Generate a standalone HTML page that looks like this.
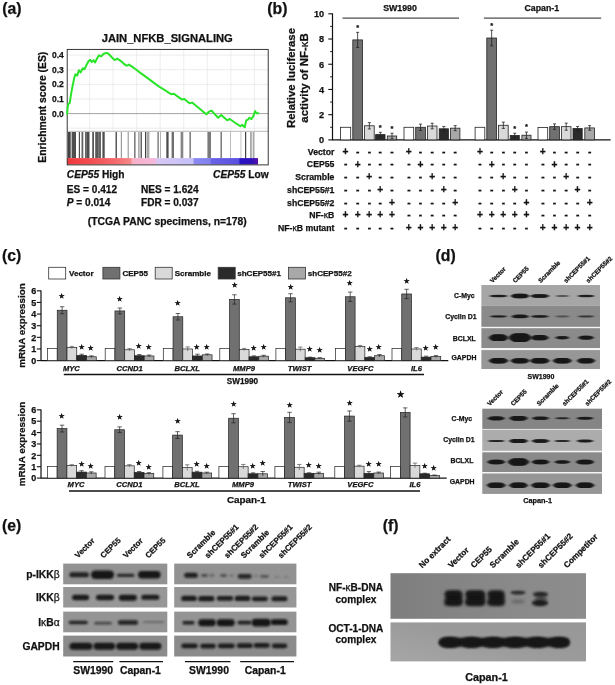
<!DOCTYPE html>
<html lang="en"><head><meta charset="utf-8"><title>CEP55 NF-kB figure</title>
<style>html,body{margin:0;padding:0;background:#fff}svg{display:block}text{font-family:'Liberation Sans', sans-serif;stroke:#111;stroke-width:0.25px;paint-order:stroke}</style>
</head><body>
<svg width="615" height="685" viewBox="0 0 615 685">
<defs>
<filter id="b06" x="-30%" y="-60%" width="160%" height="220%"><feGaussianBlur stdDeviation="0.6"/></filter>
<filter id="b08" x="-30%" y="-60%" width="160%" height="220%"><feGaussianBlur stdDeviation="0.8"/></filter>
<filter id="b1" x="-30%" y="-60%" width="160%" height="220%"><feGaussianBlur stdDeviation="1.0"/></filter>
<filter id="b14" x="-30%" y="-60%" width="160%" height="220%"><feGaussianBlur stdDeviation="1.4"/></filter>
<filter id="b2" x="-30%" y="-60%" width="160%" height="220%"><feGaussianBlur stdDeviation="2.0"/></filter>
<filter id="b3" x="-30%" y="-60%" width="160%" height="220%"><feGaussianBlur stdDeviation="3.0"/></filter>
<filter id="bx" x="-30%" y="-60%" width="160%" height="220%"><feGaussianBlur stdDeviation="1.3 0.8"/></filter>
<filter id="be" x="-30%" y="-80%" width="160%" height="260%"><feGaussianBlur stdDeviation="1.0 0.6"/></filter>
<filter id="bx8" x="-30%" y="-80%" width="160%" height="260%"><feGaussianBlur stdDeviation="1.2 0.6"/></filter>
<linearGradient id="cb" x1="0" x2="1" y1="0" y2="0">
<stop offset="0" stop-color="#f0383c"/>
<stop offset="0.1" stop-color="#f24a4e"/>
<stop offset="0.25" stop-color="#f4686a"/>
<stop offset="0.335" stop-color="#f58a8a"/>
<stop offset="0.34" stop-color="#f8b0c8"/>
<stop offset="0.46" stop-color="#f4b8dc"/>
<stop offset="0.47" stop-color="#d8c8f4"/>
<stop offset="0.66" stop-color="#c4c0f8"/>
<stop offset="0.665" stop-color="#8a8af0"/>
<stop offset="0.75" stop-color="#8080ee"/>
<stop offset="0.755" stop-color="#6a62e6"/>
<stop offset="0.9" stop-color="#5a50e0"/>
<stop offset="0.905" stop-color="#2a14c4"/>
<stop offset="0.97" stop-color="#3010b8"/>
<stop offset="1" stop-color="#5a10a8"/>
</linearGradient>
<linearGradient id="gf1" x1="0" x2="1" y1="0" y2="0"><stop offset="0" stop-color="#7e7e7e"/><stop offset="0.6" stop-color="#898989"/><stop offset="1" stop-color="#8d8d8d"/></linearGradient>
<linearGradient id="gf2" x1="0" x2="1" y1="1" y2="0"><stop offset="0" stop-color="#a6a6a6"/><stop offset="0.5" stop-color="#9b9b9b"/><stop offset="1" stop-color="#979797"/></linearGradient>
</defs>
<rect x="0" y="0" width="615" height="685" fill="#ffffff"/>
<text x="2.30" y="14.10" font-size="15.8" font-weight="bold" text-anchor="start" fill="#111"  >(a)</text>
<text x="267.30" y="14.10" font-size="15.8" font-weight="bold" text-anchor="start" fill="#111"  >(b)</text>
<text x="1.90" y="260.70" font-size="15.8" font-weight="bold" text-anchor="start" fill="#111"  >(c)</text>
<text x="435.60" y="260.70" font-size="15.8" font-weight="bold" text-anchor="start" fill="#111"  >(d)</text>
<text x="1.90" y="530.60" font-size="15.8" font-weight="bold" text-anchor="start" fill="#111"  >(e)</text>
<text x="382.70" y="530.60" font-size="15.8" font-weight="bold" text-anchor="start" fill="#111"  >(f)</text>
<g id="panelA">
<text x="167.25" y="41.60" font-size="11.2" font-weight="bold" text-anchor="middle" fill="#111"  >JAIN_NFKB_SIGNALING</text>
<line x1="89.47" y1="49.40" x2="89.47" y2="131.00" stroke="#e6e6e6" stroke-width="0.7"/>
<line x1="113.04" y1="49.40" x2="113.04" y2="131.00" stroke="#e6e6e6" stroke-width="0.7"/>
<line x1="136.61" y1="49.40" x2="136.61" y2="131.00" stroke="#e6e6e6" stroke-width="0.7"/>
<line x1="160.18" y1="49.40" x2="160.18" y2="131.00" stroke="#e6e6e6" stroke-width="0.7"/>
<line x1="183.75" y1="49.40" x2="183.75" y2="131.00" stroke="#e6e6e6" stroke-width="0.7"/>
<line x1="207.32" y1="49.40" x2="207.32" y2="131.00" stroke="#e6e6e6" stroke-width="0.7"/>
<line x1="230.89" y1="49.40" x2="230.89" y2="131.00" stroke="#e6e6e6" stroke-width="0.7"/>
<line x1="254.46" y1="49.40" x2="254.46" y2="131.00" stroke="#e6e6e6" stroke-width="0.7"/>
<line x1="67.20" y1="128.22" x2="268.20" y2="128.22" stroke="#e4e4e4" stroke-width="0.7"/>
<line x1="67.20" y1="98.98" x2="268.20" y2="98.98" stroke="#e4e4e4" stroke-width="0.7"/>
<line x1="67.20" y1="84.36" x2="268.20" y2="84.36" stroke="#e4e4e4" stroke-width="0.7"/>
<line x1="67.20" y1="69.74" x2="268.20" y2="69.74" stroke="#e4e4e4" stroke-width="0.7"/>
<line x1="67.20" y1="55.12" x2="268.20" y2="55.12" stroke="#e4e4e4" stroke-width="0.7"/>
<line x1="67.20" y1="113.60" x2="268.20" y2="113.60" stroke="#8a8a8a" stroke-width="0.8"/>
<line x1="67.20" y1="131.30" x2="268.20" y2="131.30" stroke="#999" stroke-width="0.7"/>
<text x="63.80" y="116.70" font-size="8.5" font-weight="bold" text-anchor="end" fill="#111"  >0.0</text>
<text x="63.80" y="102.08" font-size="8.5" font-weight="bold" text-anchor="end" fill="#111"  >0.1</text>
<text x="63.80" y="87.46" font-size="8.5" font-weight="bold" text-anchor="end" fill="#111"  >0.2</text>
<text x="63.80" y="72.84" font-size="8.5" font-weight="bold" text-anchor="end" fill="#111"  >0.3</text>
<text x="63.80" y="58.22" font-size="8.5" font-weight="bold" text-anchor="end" fill="#111"  >0.4</text>
<text transform="translate(45.70,107.20) rotate(-90)" font-size="10.35" font-weight="bold" text-anchor="middle" fill="#111">Enrichment score (ES)</text>
<rect x="68.00" y="132.00" width="2.70" height="26.20" fill="#222"  opacity="0.85"/>
<rect x="71.60" y="132.00" width="4.40" height="26.20" fill="#222"  opacity="0.8"/>
<rect x="78.80" y="132.00" width="1.20" height="26.20" fill="#222"  opacity="0.8"/>
<rect x="81.50" y="132.00" width="1.80" height="26.20" fill="#222"  opacity="0.7"/>
<rect x="85.00" y="132.00" width="1.80" height="26.20" fill="#222"  opacity="0.7"/>
<rect x="86.80" y="132.00" width="2.70" height="26.20" fill="#222"  opacity="0.8"/>
<rect x="92.20" y="132.00" width="1.80" height="26.20" fill="#222"  opacity="0.75"/>
<rect x="95.20" y="132.00" width="3.30" height="26.20" fill="#222"  opacity="0.75"/>
<rect x="98.50" y="132.00" width="2.50" height="26.20" fill="#222"  opacity="0.7"/>
<rect x="102.40" y="132.00" width="2.30" height="26.20" fill="#222"  opacity="0.8"/>
<rect x="115.50" y="132.00" width="1.50" height="26.20" fill="#222"  opacity="0.75"/>
<rect x="120.80" y="132.00" width="1.20" height="26.20" fill="#222"  opacity="0.45"/>
<rect x="127.60" y="132.00" width="1.30" height="26.20" fill="#222"  opacity="0.4"/>
<rect x="134.20" y="132.00" width="1.30" height="26.20" fill="#222"  opacity="0.7"/>
<rect x="138.20" y="132.00" width="1.40" height="26.20" fill="#222"  opacity="0.45"/>
<rect x="140.50" y="132.00" width="1.50" height="26.20" fill="#222"  opacity="0.7"/>
<rect x="145.00" y="132.00" width="1.20" height="26.20" fill="#222"  opacity="0.85"/>
<rect x="146.80" y="132.00" width="2.60" height="26.20" fill="#222"  opacity="0.4"/>
<rect x="157.50" y="132.00" width="1.20" height="26.20" fill="#222"  opacity="0.7"/>
<rect x="160.00" y="132.00" width="1.00" height="26.20" fill="#222"  opacity="0.35"/>
<rect x="166.30" y="132.00" width="2.30" height="26.20" fill="#222"  opacity="0.8"/>
<rect x="171.60" y="132.00" width="2.40" height="26.20" fill="#222"  opacity="0.65"/>
<rect x="180.60" y="132.00" width="2.70" height="26.20" fill="#222"  opacity="0.55"/>
<rect x="189.50" y="132.00" width="1.30" height="26.20" fill="#222"  opacity="0.7"/>
<rect x="207.40" y="132.00" width="3.60" height="26.20" fill="#222"  opacity="0.6"/>
<rect x="220.50" y="132.00" width="1.40" height="26.20" fill="#222"  opacity="0.65"/>
<rect x="230.10" y="132.00" width="0.90" height="26.20" fill="#222"  opacity="0.35"/>
<rect x="240.50" y="132.00" width="0.90" height="26.20" fill="#222"  opacity="0.3"/>
<rect x="245.00" y="132.00" width="1.20" height="26.20" fill="#222"  opacity="0.85"/>
<rect x="250.30" y="132.00" width="1.30" height="26.20" fill="#222"  opacity="0.55"/>
<rect x="252.70" y="132.00" width="1.80" height="26.20" fill="#222"  opacity="0.4"/>
<rect x="67.20" y="158.10" width="190.80" height="6.40" fill="url(#cb)"  />
<rect x="67.20" y="49.40" width="201.00" height="115.50" fill="none" stroke="#222" stroke-width="0.9" />
<polyline fill="none" stroke="#2ae42a" stroke-width="2" stroke-linejoin="round" stroke-linecap="round" points="67.20,113.80 67.60,108.00 68.20,104.20 69.80,102.90 70.60,97.00 71.60,91.10 72.60,86.00 73.70,80.70 74.60,76.50 75.50,74.20 76.40,75.20 77.30,75.50 78.10,72.50 78.90,70.30 79.80,71.60 80.70,72.40 81.80,70.00 82.80,68.20 83.70,69.20 84.60,69.00 86.50,65.00 88.50,61.20 89.50,60.20 90.40,59.90 91.70,62.00 92.70,61.00 93.75,60.40 95.00,62.50 97.00,58.50 99.00,55.20 100.30,56.20 101.60,56.00 102.90,54.50 104.20,53.40 106.80,52.90 108.00,53.40 109.40,54.70 112.00,57.50 114.60,59.90 116.00,59.50 117.20,58.60 119.00,59.80 121.10,61.20 123.70,63.60 126.30,65.60 127.60,65.40 128.90,64.60 132.00,66.60 135.40,69.00 140.00,72.60 148.00,78.40 155.00,83.60 160.00,87.20 166.00,90.80 168.50,92.60 171.25,94.20 173.90,93.70 177.50,96.40 181.70,99.40 184.30,98.90 187.00,101.20 189.50,103.30 192.10,102.60 196.00,105.80 200.00,109.00 203.00,111.60 206.40,114.30 209.00,111.70 211.60,110.60 214.50,113.80 218.10,117.70 221.25,115.00 224.00,117.60 227.20,120.30 229.80,119.00 233.00,121.20 236.50,123.70 240.30,126.25 242.10,124.70 243.50,126.20 244.70,127.30 245.50,123.50 246.25,120.30 248.10,119.50 249.40,117.70 250.40,118.60 251.50,119.00 252.40,117.50 253.30,116.40 254.20,113.50 255.10,111.10 255.90,112.40 256.70,113.20 258.50,113.20"/>
<text x="66.80" y="178.20" font-size="10.2" font-weight="bold" text-anchor="start" fill="#111"  ><tspan font-style="italic">CEP55</tspan> High</text>
<text x="268.60" y="178.20" font-size="10.2" font-weight="bold" text-anchor="end" fill="#111"  ><tspan font-style="italic">CEP55</tspan> Low</text>
<text x="66.80" y="192.80" font-size="10.1" font-weight="bold" text-anchor="start" fill="#111"  >ES = 0.412</text>
<text x="141.00" y="192.80" font-size="10.1" font-weight="bold" text-anchor="start" fill="#111"  >NES = 1.624</text>
<text x="66.80" y="205.80" font-size="10.1" font-weight="bold" text-anchor="start" fill="#111"  ><tspan font-style="italic">P</tspan> = 0.014</text>
<text x="141.00" y="205.80" font-size="10.1" font-weight="bold" text-anchor="start" fill="#111"  >FDR = 0.037</text>
<text x="87.80" y="224.60" font-size="10.35" font-weight="bold" text-anchor="start" fill="#111"  >(TCGA PANC specimens, n=178)</text>
</g>
<g id="panelB">
<line x1="332.50" y1="13.40" x2="332.50" y2="140.40" stroke="#111" stroke-width="1.2"/>
<line x1="332.50" y1="139.90" x2="610.60" y2="139.90" stroke="#111" stroke-width="1.3"/>
<line x1="328.30" y1="139.90" x2="332.50" y2="139.90" stroke="#111" stroke-width="1.1"/>
<text x="324.20" y="143.20" font-size="9.2" font-weight="bold" text-anchor="end" fill="#111"  >0</text>
<line x1="330.10" y1="127.29" x2="332.50" y2="127.29" stroke="#111" stroke-width="0.9"/>
<line x1="328.30" y1="114.68" x2="332.50" y2="114.68" stroke="#111" stroke-width="1.1"/>
<text x="324.20" y="117.98" font-size="9.2" font-weight="bold" text-anchor="end" fill="#111"  >2</text>
<line x1="330.10" y1="102.07" x2="332.50" y2="102.07" stroke="#111" stroke-width="0.9"/>
<line x1="328.30" y1="89.46" x2="332.50" y2="89.46" stroke="#111" stroke-width="1.1"/>
<text x="324.20" y="92.76" font-size="9.2" font-weight="bold" text-anchor="end" fill="#111"  >4</text>
<line x1="330.10" y1="76.85" x2="332.50" y2="76.85" stroke="#111" stroke-width="0.9"/>
<line x1="328.30" y1="64.24" x2="332.50" y2="64.24" stroke="#111" stroke-width="1.1"/>
<text x="324.20" y="67.54" font-size="9.2" font-weight="bold" text-anchor="end" fill="#111"  >6</text>
<line x1="330.10" y1="51.63" x2="332.50" y2="51.63" stroke="#111" stroke-width="0.9"/>
<line x1="328.30" y1="39.02" x2="332.50" y2="39.02" stroke="#111" stroke-width="1.1"/>
<text x="324.20" y="42.32" font-size="9.2" font-weight="bold" text-anchor="end" fill="#111"  >8</text>
<line x1="330.10" y1="26.41" x2="332.50" y2="26.41" stroke="#111" stroke-width="0.9"/>
<line x1="328.30" y1="13.80" x2="332.50" y2="13.80" stroke="#111" stroke-width="1.1"/>
<text x="324.20" y="17.10" font-size="9.2" font-weight="bold" text-anchor="end" fill="#111"  >10</text>
<text transform="translate(295.00,78.00) rotate(-90)" font-size="11.4" font-weight="bold" text-anchor="middle" fill="#111">Relative luciferase</text>
<text transform="translate(308.20,78.00) rotate(-90)" font-size="11.4" font-weight="bold" text-anchor="middle" fill="#111">activity of NF-<tspan font-weight="normal">κ</tspan>B</text>
<line x1="342.50" y1="18.10" x2="459.00" y2="18.10" stroke="#222" stroke-width="1"/>
<line x1="483.90" y1="18.10" x2="601.20" y2="18.10" stroke="#222" stroke-width="1"/>
<text x="400.00" y="11.20" font-size="8.8" font-weight="bold" text-anchor="middle" fill="#111"  >SW1990</text>
<text x="541.80" y="11.20" font-size="8.8" font-weight="bold" text-anchor="middle" fill="#111"  >Capan-1</text>
<rect x="340.50" y="127.29" width="10.20" height="12.61" fill="#ffffff" stroke="#222" stroke-width="0.8" />
<rect x="352.80" y="39.90" width="9.70" height="100.00" fill="#707070" stroke="#222" stroke-width="0.8" />
<line x1="357.65" y1="32.34" x2="357.65" y2="47.47" stroke="#222" stroke-width="0.8"/>
<line x1="356.15" y1="32.34" x2="359.15" y2="32.34" stroke="#222" stroke-width="0.8"/>
<line x1="356.15" y1="47.47" x2="359.15" y2="47.47" stroke="#222" stroke-width="0.8"/>
<text x="357.65" y="26.74" font-size="7.5" font-weight="bold" text-anchor="middle" fill="#111"  dy="3">*</text>
<rect x="364.50" y="125.78" width="9.70" height="14.12" fill="#d9d9d9" stroke="#222" stroke-width="0.8" />
<line x1="369.35" y1="122.62" x2="369.35" y2="128.93" stroke="#222" stroke-width="0.8"/>
<line x1="367.85" y1="122.62" x2="370.85" y2="122.62" stroke="#222" stroke-width="0.8"/>
<line x1="367.85" y1="128.93" x2="370.85" y2="128.93" stroke="#222" stroke-width="0.8"/>
<rect x="375.60" y="134.60" width="9.40" height="5.30" fill="#2a2a2a" stroke="#222" stroke-width="0.8" />
<line x1="380.30" y1="132.33" x2="380.30" y2="136.87" stroke="#222" stroke-width="0.8"/>
<line x1="378.80" y1="132.33" x2="381.80" y2="132.33" stroke="#222" stroke-width="0.8"/>
<line x1="378.80" y1="136.87" x2="381.80" y2="136.87" stroke="#222" stroke-width="0.8"/>
<text x="380.30" y="126.73" font-size="7.5" font-weight="bold" text-anchor="middle" fill="#111"  dy="3">*</text>
<rect x="387.30" y="135.99" width="9.40" height="3.91" fill="#a8a8a8" stroke="#222" stroke-width="0.8" />
<line x1="392.00" y1="133.22" x2="392.00" y2="138.77" stroke="#222" stroke-width="0.8"/>
<line x1="390.50" y1="133.22" x2="393.50" y2="133.22" stroke="#222" stroke-width="0.8"/>
<line x1="390.50" y1="138.77" x2="393.50" y2="138.77" stroke="#222" stroke-width="0.8"/>
<text x="392.00" y="127.62" font-size="7.5" font-weight="bold" text-anchor="middle" fill="#111"  dy="3">*</text>
<rect x="404.00" y="127.29" width="9.70" height="12.61" fill="#ffffff" stroke="#222" stroke-width="0.8" />
<rect x="415.70" y="127.29" width="9.70" height="12.61" fill="#707070" stroke="#222" stroke-width="0.8" />
<line x1="420.55" y1="124.14" x2="420.55" y2="130.44" stroke="#222" stroke-width="0.8"/>
<line x1="419.05" y1="124.14" x2="422.05" y2="124.14" stroke="#222" stroke-width="0.8"/>
<line x1="419.05" y1="130.44" x2="422.05" y2="130.44" stroke="#222" stroke-width="0.8"/>
<rect x="427.40" y="126.03" width="9.60" height="13.87" fill="#d9d9d9" stroke="#222" stroke-width="0.8" />
<line x1="432.20" y1="123.25" x2="432.20" y2="128.80" stroke="#222" stroke-width="0.8"/>
<line x1="430.70" y1="123.25" x2="433.70" y2="123.25" stroke="#222" stroke-width="0.8"/>
<line x1="430.70" y1="128.80" x2="433.70" y2="128.80" stroke="#222" stroke-width="0.8"/>
<rect x="439.20" y="128.80" width="9.20" height="11.10" fill="#2a2a2a" stroke="#222" stroke-width="0.8" />
<line x1="443.80" y1="126.53" x2="443.80" y2="131.07" stroke="#222" stroke-width="0.8"/>
<line x1="442.30" y1="126.53" x2="445.30" y2="126.53" stroke="#222" stroke-width="0.8"/>
<line x1="442.30" y1="131.07" x2="445.30" y2="131.07" stroke="#222" stroke-width="0.8"/>
<rect x="450.50" y="128.17" width="9.40" height="11.73" fill="#a8a8a8" stroke="#222" stroke-width="0.8" />
<line x1="455.20" y1="125.65" x2="455.20" y2="130.69" stroke="#222" stroke-width="0.8"/>
<line x1="453.70" y1="125.65" x2="456.70" y2="125.65" stroke="#222" stroke-width="0.8"/>
<line x1="453.70" y1="130.69" x2="456.70" y2="130.69" stroke="#222" stroke-width="0.8"/>
<rect x="475.10" y="127.29" width="9.70" height="12.61" fill="#ffffff" stroke="#222" stroke-width="0.8" />
<rect x="486.80" y="38.01" width="9.70" height="101.89" fill="#707070" stroke="#222" stroke-width="0.8" />
<line x1="491.65" y1="30.19" x2="491.65" y2="45.83" stroke="#222" stroke-width="0.8"/>
<line x1="490.15" y1="30.19" x2="493.15" y2="30.19" stroke="#222" stroke-width="0.8"/>
<line x1="490.15" y1="45.83" x2="493.15" y2="45.83" stroke="#222" stroke-width="0.8"/>
<text x="491.65" y="24.59" font-size="7.5" font-weight="bold" text-anchor="middle" fill="#111"  dy="3">*</text>
<rect x="498.50" y="125.27" width="9.70" height="14.63" fill="#d9d9d9" stroke="#222" stroke-width="0.8" />
<line x1="503.35" y1="122.12" x2="503.35" y2="128.42" stroke="#222" stroke-width="0.8"/>
<line x1="501.85" y1="122.12" x2="504.85" y2="122.12" stroke="#222" stroke-width="0.8"/>
<line x1="501.85" y1="128.42" x2="504.85" y2="128.42" stroke="#222" stroke-width="0.8"/>
<rect x="510.20" y="135.49" width="9.10" height="4.41" fill="#2a2a2a" stroke="#222" stroke-width="0.8" />
<line x1="514.75" y1="133.22" x2="514.75" y2="137.76" stroke="#222" stroke-width="0.8"/>
<line x1="513.25" y1="133.22" x2="516.25" y2="133.22" stroke="#222" stroke-width="0.8"/>
<line x1="513.25" y1="137.76" x2="516.25" y2="137.76" stroke="#222" stroke-width="0.8"/>
<text x="514.75" y="127.62" font-size="7.5" font-weight="bold" text-anchor="middle" fill="#111"  dy="3">*</text>
<rect x="521.90" y="135.23" width="9.10" height="4.67" fill="#a8a8a8" stroke="#222" stroke-width="0.8" />
<line x1="526.45" y1="132.08" x2="526.45" y2="138.39" stroke="#222" stroke-width="0.8"/>
<line x1="524.95" y1="132.08" x2="527.95" y2="132.08" stroke="#222" stroke-width="0.8"/>
<line x1="524.95" y1="138.39" x2="527.95" y2="138.39" stroke="#222" stroke-width="0.8"/>
<text x="526.45" y="126.48" font-size="7.5" font-weight="bold" text-anchor="middle" fill="#111"  dy="3">*</text>
<rect x="538.00" y="127.54" width="9.70" height="12.36" fill="#ffffff" stroke="#222" stroke-width="0.8" />
<rect x="549.70" y="126.66" width="9.70" height="13.24" fill="#707070" stroke="#222" stroke-width="0.8" />
<line x1="554.55" y1="123.89" x2="554.55" y2="129.43" stroke="#222" stroke-width="0.8"/>
<line x1="553.05" y1="123.89" x2="556.05" y2="123.89" stroke="#222" stroke-width="0.8"/>
<line x1="553.05" y1="129.43" x2="556.05" y2="129.43" stroke="#222" stroke-width="0.8"/>
<rect x="561.40" y="126.66" width="9.60" height="13.24" fill="#d9d9d9" stroke="#222" stroke-width="0.8" />
<line x1="566.20" y1="123.13" x2="566.20" y2="130.19" stroke="#222" stroke-width="0.8"/>
<line x1="564.70" y1="123.13" x2="567.70" y2="123.13" stroke="#222" stroke-width="0.8"/>
<line x1="564.70" y1="130.19" x2="567.70" y2="130.19" stroke="#222" stroke-width="0.8"/>
<rect x="573.00" y="128.55" width="9.20" height="11.35" fill="#2a2a2a" stroke="#222" stroke-width="0.8" />
<line x1="577.60" y1="126.53" x2="577.60" y2="130.57" stroke="#222" stroke-width="0.8"/>
<line x1="576.10" y1="126.53" x2="579.10" y2="126.53" stroke="#222" stroke-width="0.8"/>
<line x1="576.10" y1="130.57" x2="579.10" y2="130.57" stroke="#222" stroke-width="0.8"/>
<rect x="584.80" y="127.92" width="9.70" height="11.98" fill="#a8a8a8" stroke="#222" stroke-width="0.8" />
<line x1="589.65" y1="125.65" x2="589.65" y2="130.19" stroke="#222" stroke-width="0.8"/>
<line x1="588.15" y1="125.65" x2="591.15" y2="125.65" stroke="#222" stroke-width="0.8"/>
<line x1="588.15" y1="130.19" x2="591.15" y2="130.19" stroke="#222" stroke-width="0.8"/>
<text x="334.40" y="154.80" font-size="8.7" font-weight="bold" text-anchor="end" fill="#111"  >Vector</text>
<text x="345.60" y="155.24" font-size="10.2" font-weight="bold" text-anchor="middle" fill="#111"  stroke-width="0.15">+</text>
<text x="357.65" y="154.70" font-size="10.2" font-weight="bold" text-anchor="middle" fill="#111"  stroke-width="0.15">-</text>
<text x="369.35" y="154.70" font-size="10.2" font-weight="bold" text-anchor="middle" fill="#111"  stroke-width="0.15">-</text>
<text x="380.30" y="154.70" font-size="10.2" font-weight="bold" text-anchor="middle" fill="#111"  stroke-width="0.15">-</text>
<text x="392.00" y="154.70" font-size="10.2" font-weight="bold" text-anchor="middle" fill="#111"  stroke-width="0.15">-</text>
<text x="408.85" y="155.24" font-size="10.2" font-weight="bold" text-anchor="middle" fill="#111"  stroke-width="0.15">+</text>
<text x="420.55" y="154.70" font-size="10.2" font-weight="bold" text-anchor="middle" fill="#111"  stroke-width="0.15">-</text>
<text x="432.20" y="154.70" font-size="10.2" font-weight="bold" text-anchor="middle" fill="#111"  stroke-width="0.15">-</text>
<text x="443.80" y="154.70" font-size="10.2" font-weight="bold" text-anchor="middle" fill="#111"  stroke-width="0.15">-</text>
<text x="455.20" y="154.70" font-size="10.2" font-weight="bold" text-anchor="middle" fill="#111"  stroke-width="0.15">-</text>
<text x="479.95" y="155.24" font-size="10.2" font-weight="bold" text-anchor="middle" fill="#111"  stroke-width="0.15">+</text>
<text x="491.65" y="154.70" font-size="10.2" font-weight="bold" text-anchor="middle" fill="#111"  stroke-width="0.15">-</text>
<text x="503.35" y="154.70" font-size="10.2" font-weight="bold" text-anchor="middle" fill="#111"  stroke-width="0.15">-</text>
<text x="514.75" y="154.70" font-size="10.2" font-weight="bold" text-anchor="middle" fill="#111"  stroke-width="0.15">-</text>
<text x="526.45" y="154.70" font-size="10.2" font-weight="bold" text-anchor="middle" fill="#111"  stroke-width="0.15">-</text>
<text x="542.85" y="155.24" font-size="10.2" font-weight="bold" text-anchor="middle" fill="#111"  stroke-width="0.15">+</text>
<text x="554.55" y="154.70" font-size="10.2" font-weight="bold" text-anchor="middle" fill="#111"  stroke-width="0.15">-</text>
<text x="566.20" y="154.70" font-size="10.2" font-weight="bold" text-anchor="middle" fill="#111"  stroke-width="0.15">-</text>
<text x="577.60" y="154.70" font-size="10.2" font-weight="bold" text-anchor="middle" fill="#111"  stroke-width="0.15">-</text>
<text x="589.65" y="154.70" font-size="10.2" font-weight="bold" text-anchor="middle" fill="#111"  stroke-width="0.15">-</text>
<text x="334.40" y="167.40" font-size="8.7" font-weight="bold" text-anchor="end" fill="#111"  >CEP55</text>
<text x="345.60" y="167.30" font-size="10.2" font-weight="bold" text-anchor="middle" fill="#111"  stroke-width="0.15">-</text>
<text x="357.65" y="167.84" font-size="10.2" font-weight="bold" text-anchor="middle" fill="#111"  stroke-width="0.15">+</text>
<text x="369.35" y="167.30" font-size="10.2" font-weight="bold" text-anchor="middle" fill="#111"  stroke-width="0.15">-</text>
<text x="380.30" y="167.30" font-size="10.2" font-weight="bold" text-anchor="middle" fill="#111"  stroke-width="0.15">-</text>
<text x="392.00" y="167.30" font-size="10.2" font-weight="bold" text-anchor="middle" fill="#111"  stroke-width="0.15">-</text>
<text x="408.85" y="167.30" font-size="10.2" font-weight="bold" text-anchor="middle" fill="#111"  stroke-width="0.15">-</text>
<text x="420.55" y="167.84" font-size="10.2" font-weight="bold" text-anchor="middle" fill="#111"  stroke-width="0.15">+</text>
<text x="432.20" y="167.30" font-size="10.2" font-weight="bold" text-anchor="middle" fill="#111"  stroke-width="0.15">-</text>
<text x="443.80" y="167.30" font-size="10.2" font-weight="bold" text-anchor="middle" fill="#111"  stroke-width="0.15">-</text>
<text x="455.20" y="167.30" font-size="10.2" font-weight="bold" text-anchor="middle" fill="#111"  stroke-width="0.15">-</text>
<text x="479.95" y="167.30" font-size="10.2" font-weight="bold" text-anchor="middle" fill="#111"  stroke-width="0.15">-</text>
<text x="491.65" y="167.84" font-size="10.2" font-weight="bold" text-anchor="middle" fill="#111"  stroke-width="0.15">+</text>
<text x="503.35" y="167.30" font-size="10.2" font-weight="bold" text-anchor="middle" fill="#111"  stroke-width="0.15">-</text>
<text x="514.75" y="167.30" font-size="10.2" font-weight="bold" text-anchor="middle" fill="#111"  stroke-width="0.15">-</text>
<text x="526.45" y="167.30" font-size="10.2" font-weight="bold" text-anchor="middle" fill="#111"  stroke-width="0.15">-</text>
<text x="542.85" y="167.30" font-size="10.2" font-weight="bold" text-anchor="middle" fill="#111"  stroke-width="0.15">-</text>
<text x="554.55" y="167.84" font-size="10.2" font-weight="bold" text-anchor="middle" fill="#111"  stroke-width="0.15">+</text>
<text x="566.20" y="167.30" font-size="10.2" font-weight="bold" text-anchor="middle" fill="#111"  stroke-width="0.15">-</text>
<text x="577.60" y="167.30" font-size="10.2" font-weight="bold" text-anchor="middle" fill="#111"  stroke-width="0.15">-</text>
<text x="589.65" y="167.30" font-size="10.2" font-weight="bold" text-anchor="middle" fill="#111"  stroke-width="0.15">-</text>
<text x="334.40" y="180.00" font-size="8.7" font-weight="bold" text-anchor="end" fill="#111"  >Scramble</text>
<text x="345.60" y="179.90" font-size="10.2" font-weight="bold" text-anchor="middle" fill="#111"  stroke-width="0.15">-</text>
<text x="357.65" y="179.90" font-size="10.2" font-weight="bold" text-anchor="middle" fill="#111"  stroke-width="0.15">-</text>
<text x="369.35" y="180.44" font-size="10.2" font-weight="bold" text-anchor="middle" fill="#111"  stroke-width="0.15">+</text>
<text x="380.30" y="179.90" font-size="10.2" font-weight="bold" text-anchor="middle" fill="#111"  stroke-width="0.15">-</text>
<text x="392.00" y="179.90" font-size="10.2" font-weight="bold" text-anchor="middle" fill="#111"  stroke-width="0.15">-</text>
<text x="408.85" y="179.90" font-size="10.2" font-weight="bold" text-anchor="middle" fill="#111"  stroke-width="0.15">-</text>
<text x="420.55" y="179.90" font-size="10.2" font-weight="bold" text-anchor="middle" fill="#111"  stroke-width="0.15">-</text>
<text x="432.20" y="180.44" font-size="10.2" font-weight="bold" text-anchor="middle" fill="#111"  stroke-width="0.15">+</text>
<text x="443.80" y="179.90" font-size="10.2" font-weight="bold" text-anchor="middle" fill="#111"  stroke-width="0.15">-</text>
<text x="455.20" y="179.90" font-size="10.2" font-weight="bold" text-anchor="middle" fill="#111"  stroke-width="0.15">-</text>
<text x="479.95" y="179.90" font-size="10.2" font-weight="bold" text-anchor="middle" fill="#111"  stroke-width="0.15">-</text>
<text x="491.65" y="179.90" font-size="10.2" font-weight="bold" text-anchor="middle" fill="#111"  stroke-width="0.15">-</text>
<text x="503.35" y="180.44" font-size="10.2" font-weight="bold" text-anchor="middle" fill="#111"  stroke-width="0.15">+</text>
<text x="514.75" y="179.90" font-size="10.2" font-weight="bold" text-anchor="middle" fill="#111"  stroke-width="0.15">-</text>
<text x="526.45" y="179.90" font-size="10.2" font-weight="bold" text-anchor="middle" fill="#111"  stroke-width="0.15">-</text>
<text x="542.85" y="179.90" font-size="10.2" font-weight="bold" text-anchor="middle" fill="#111"  stroke-width="0.15">-</text>
<text x="554.55" y="179.90" font-size="10.2" font-weight="bold" text-anchor="middle" fill="#111"  stroke-width="0.15">-</text>
<text x="566.20" y="180.44" font-size="10.2" font-weight="bold" text-anchor="middle" fill="#111"  stroke-width="0.15">+</text>
<text x="577.60" y="179.90" font-size="10.2" font-weight="bold" text-anchor="middle" fill="#111"  stroke-width="0.15">-</text>
<text x="589.65" y="179.90" font-size="10.2" font-weight="bold" text-anchor="middle" fill="#111"  stroke-width="0.15">-</text>
<text x="334.40" y="192.80" font-size="8.7" font-weight="bold" text-anchor="end" fill="#111"  >shCEP55#1</text>
<text x="345.60" y="192.70" font-size="10.2" font-weight="bold" text-anchor="middle" fill="#111"  stroke-width="0.15">-</text>
<text x="357.65" y="192.70" font-size="10.2" font-weight="bold" text-anchor="middle" fill="#111"  stroke-width="0.15">-</text>
<text x="369.35" y="192.70" font-size="10.2" font-weight="bold" text-anchor="middle" fill="#111"  stroke-width="0.15">-</text>
<text x="380.30" y="193.24" font-size="10.2" font-weight="bold" text-anchor="middle" fill="#111"  stroke-width="0.15">+</text>
<text x="392.00" y="192.70" font-size="10.2" font-weight="bold" text-anchor="middle" fill="#111"  stroke-width="0.15">-</text>
<text x="408.85" y="192.70" font-size="10.2" font-weight="bold" text-anchor="middle" fill="#111"  stroke-width="0.15">-</text>
<text x="420.55" y="192.70" font-size="10.2" font-weight="bold" text-anchor="middle" fill="#111"  stroke-width="0.15">-</text>
<text x="432.20" y="192.70" font-size="10.2" font-weight="bold" text-anchor="middle" fill="#111"  stroke-width="0.15">-</text>
<text x="443.80" y="193.24" font-size="10.2" font-weight="bold" text-anchor="middle" fill="#111"  stroke-width="0.15">+</text>
<text x="455.20" y="192.70" font-size="10.2" font-weight="bold" text-anchor="middle" fill="#111"  stroke-width="0.15">-</text>
<text x="479.95" y="192.70" font-size="10.2" font-weight="bold" text-anchor="middle" fill="#111"  stroke-width="0.15">-</text>
<text x="491.65" y="192.70" font-size="10.2" font-weight="bold" text-anchor="middle" fill="#111"  stroke-width="0.15">-</text>
<text x="503.35" y="192.70" font-size="10.2" font-weight="bold" text-anchor="middle" fill="#111"  stroke-width="0.15">-</text>
<text x="514.75" y="193.24" font-size="10.2" font-weight="bold" text-anchor="middle" fill="#111"  stroke-width="0.15">+</text>
<text x="526.45" y="192.70" font-size="10.2" font-weight="bold" text-anchor="middle" fill="#111"  stroke-width="0.15">-</text>
<text x="542.85" y="192.70" font-size="10.2" font-weight="bold" text-anchor="middle" fill="#111"  stroke-width="0.15">-</text>
<text x="554.55" y="192.70" font-size="10.2" font-weight="bold" text-anchor="middle" fill="#111"  stroke-width="0.15">-</text>
<text x="566.20" y="192.70" font-size="10.2" font-weight="bold" text-anchor="middle" fill="#111"  stroke-width="0.15">-</text>
<text x="577.60" y="193.24" font-size="10.2" font-weight="bold" text-anchor="middle" fill="#111"  stroke-width="0.15">+</text>
<text x="589.65" y="192.70" font-size="10.2" font-weight="bold" text-anchor="middle" fill="#111"  stroke-width="0.15">-</text>
<text x="334.40" y="205.90" font-size="8.7" font-weight="bold" text-anchor="end" fill="#111"  >shCEP55#2</text>
<text x="345.60" y="205.80" font-size="10.2" font-weight="bold" text-anchor="middle" fill="#111"  stroke-width="0.15">-</text>
<text x="357.65" y="205.80" font-size="10.2" font-weight="bold" text-anchor="middle" fill="#111"  stroke-width="0.15">-</text>
<text x="369.35" y="205.80" font-size="10.2" font-weight="bold" text-anchor="middle" fill="#111"  stroke-width="0.15">-</text>
<text x="380.30" y="205.80" font-size="10.2" font-weight="bold" text-anchor="middle" fill="#111"  stroke-width="0.15">-</text>
<text x="392.00" y="206.34" font-size="10.2" font-weight="bold" text-anchor="middle" fill="#111"  stroke-width="0.15">+</text>
<text x="408.85" y="205.80" font-size="10.2" font-weight="bold" text-anchor="middle" fill="#111"  stroke-width="0.15">-</text>
<text x="420.55" y="205.80" font-size="10.2" font-weight="bold" text-anchor="middle" fill="#111"  stroke-width="0.15">-</text>
<text x="432.20" y="205.80" font-size="10.2" font-weight="bold" text-anchor="middle" fill="#111"  stroke-width="0.15">-</text>
<text x="443.80" y="205.80" font-size="10.2" font-weight="bold" text-anchor="middle" fill="#111"  stroke-width="0.15">-</text>
<text x="455.20" y="206.34" font-size="10.2" font-weight="bold" text-anchor="middle" fill="#111"  stroke-width="0.15">+</text>
<text x="479.95" y="205.80" font-size="10.2" font-weight="bold" text-anchor="middle" fill="#111"  stroke-width="0.15">-</text>
<text x="491.65" y="205.80" font-size="10.2" font-weight="bold" text-anchor="middle" fill="#111"  stroke-width="0.15">-</text>
<text x="503.35" y="205.80" font-size="10.2" font-weight="bold" text-anchor="middle" fill="#111"  stroke-width="0.15">-</text>
<text x="514.75" y="205.80" font-size="10.2" font-weight="bold" text-anchor="middle" fill="#111"  stroke-width="0.15">-</text>
<text x="526.45" y="206.34" font-size="10.2" font-weight="bold" text-anchor="middle" fill="#111"  stroke-width="0.15">+</text>
<text x="542.85" y="205.80" font-size="10.2" font-weight="bold" text-anchor="middle" fill="#111"  stroke-width="0.15">-</text>
<text x="554.55" y="205.80" font-size="10.2" font-weight="bold" text-anchor="middle" fill="#111"  stroke-width="0.15">-</text>
<text x="566.20" y="205.80" font-size="10.2" font-weight="bold" text-anchor="middle" fill="#111"  stroke-width="0.15">-</text>
<text x="577.60" y="205.80" font-size="10.2" font-weight="bold" text-anchor="middle" fill="#111"  stroke-width="0.15">-</text>
<text x="589.65" y="206.34" font-size="10.2" font-weight="bold" text-anchor="middle" fill="#111"  stroke-width="0.15">+</text>
<text x="334.40" y="217.90" font-size="8.7" font-weight="bold" text-anchor="end" fill="#111"  >NF-<tspan font-weight="normal">κ</tspan>B</text>
<text x="345.60" y="218.34" font-size="10.2" font-weight="bold" text-anchor="middle" fill="#111"  stroke-width="0.15">+</text>
<text x="357.65" y="218.34" font-size="10.2" font-weight="bold" text-anchor="middle" fill="#111"  stroke-width="0.15">+</text>
<text x="369.35" y="218.34" font-size="10.2" font-weight="bold" text-anchor="middle" fill="#111"  stroke-width="0.15">+</text>
<text x="380.30" y="218.34" font-size="10.2" font-weight="bold" text-anchor="middle" fill="#111"  stroke-width="0.15">+</text>
<text x="392.00" y="218.34" font-size="10.2" font-weight="bold" text-anchor="middle" fill="#111"  stroke-width="0.15">+</text>
<text x="408.85" y="217.80" font-size="10.2" font-weight="bold" text-anchor="middle" fill="#111"  stroke-width="0.15">-</text>
<text x="420.55" y="217.80" font-size="10.2" font-weight="bold" text-anchor="middle" fill="#111"  stroke-width="0.15">-</text>
<text x="432.20" y="217.80" font-size="10.2" font-weight="bold" text-anchor="middle" fill="#111"  stroke-width="0.15">-</text>
<text x="443.80" y="217.80" font-size="10.2" font-weight="bold" text-anchor="middle" fill="#111"  stroke-width="0.15">-</text>
<text x="455.20" y="217.80" font-size="10.2" font-weight="bold" text-anchor="middle" fill="#111"  stroke-width="0.15">-</text>
<text x="479.95" y="218.34" font-size="10.2" font-weight="bold" text-anchor="middle" fill="#111"  stroke-width="0.15">+</text>
<text x="491.65" y="218.34" font-size="10.2" font-weight="bold" text-anchor="middle" fill="#111"  stroke-width="0.15">+</text>
<text x="503.35" y="218.34" font-size="10.2" font-weight="bold" text-anchor="middle" fill="#111"  stroke-width="0.15">+</text>
<text x="514.75" y="218.34" font-size="10.2" font-weight="bold" text-anchor="middle" fill="#111"  stroke-width="0.15">+</text>
<text x="526.45" y="218.34" font-size="10.2" font-weight="bold" text-anchor="middle" fill="#111"  stroke-width="0.15">+</text>
<text x="542.85" y="217.80" font-size="10.2" font-weight="bold" text-anchor="middle" fill="#111"  stroke-width="0.15">-</text>
<text x="554.55" y="217.80" font-size="10.2" font-weight="bold" text-anchor="middle" fill="#111"  stroke-width="0.15">-</text>
<text x="566.20" y="217.80" font-size="10.2" font-weight="bold" text-anchor="middle" fill="#111"  stroke-width="0.15">-</text>
<text x="577.60" y="217.80" font-size="10.2" font-weight="bold" text-anchor="middle" fill="#111"  stroke-width="0.15">-</text>
<text x="589.65" y="217.80" font-size="10.2" font-weight="bold" text-anchor="middle" fill="#111"  stroke-width="0.15">-</text>
<text x="334.40" y="230.90" font-size="8.7" font-weight="bold" text-anchor="end" fill="#111"  >NF-<tspan font-weight="normal">κ</tspan>B mutant</text>
<text x="345.60" y="230.80" font-size="10.2" font-weight="bold" text-anchor="middle" fill="#111"  stroke-width="0.15">-</text>
<text x="357.65" y="230.80" font-size="10.2" font-weight="bold" text-anchor="middle" fill="#111"  stroke-width="0.15">-</text>
<text x="369.35" y="230.80" font-size="10.2" font-weight="bold" text-anchor="middle" fill="#111"  stroke-width="0.15">-</text>
<text x="380.30" y="230.80" font-size="10.2" font-weight="bold" text-anchor="middle" fill="#111"  stroke-width="0.15">-</text>
<text x="392.00" y="230.80" font-size="10.2" font-weight="bold" text-anchor="middle" fill="#111"  stroke-width="0.15">-</text>
<text x="408.85" y="231.34" font-size="10.2" font-weight="bold" text-anchor="middle" fill="#111"  stroke-width="0.15">+</text>
<text x="420.55" y="231.34" font-size="10.2" font-weight="bold" text-anchor="middle" fill="#111"  stroke-width="0.15">+</text>
<text x="432.20" y="231.34" font-size="10.2" font-weight="bold" text-anchor="middle" fill="#111"  stroke-width="0.15">+</text>
<text x="443.80" y="231.34" font-size="10.2" font-weight="bold" text-anchor="middle" fill="#111"  stroke-width="0.15">+</text>
<text x="455.20" y="231.34" font-size="10.2" font-weight="bold" text-anchor="middle" fill="#111"  stroke-width="0.15">+</text>
<text x="479.95" y="230.80" font-size="10.2" font-weight="bold" text-anchor="middle" fill="#111"  stroke-width="0.15">-</text>
<text x="491.65" y="230.80" font-size="10.2" font-weight="bold" text-anchor="middle" fill="#111"  stroke-width="0.15">-</text>
<text x="503.35" y="230.80" font-size="10.2" font-weight="bold" text-anchor="middle" fill="#111"  stroke-width="0.15">-</text>
<text x="514.75" y="230.80" font-size="10.2" font-weight="bold" text-anchor="middle" fill="#111"  stroke-width="0.15">-</text>
<text x="526.45" y="230.80" font-size="10.2" font-weight="bold" text-anchor="middle" fill="#111"  stroke-width="0.15">-</text>
<text x="542.85" y="231.34" font-size="10.2" font-weight="bold" text-anchor="middle" fill="#111"  stroke-width="0.15">+</text>
<text x="554.55" y="231.34" font-size="10.2" font-weight="bold" text-anchor="middle" fill="#111"  stroke-width="0.15">+</text>
<text x="566.20" y="231.34" font-size="10.2" font-weight="bold" text-anchor="middle" fill="#111"  stroke-width="0.15">+</text>
<text x="577.60" y="231.34" font-size="10.2" font-weight="bold" text-anchor="middle" fill="#111"  stroke-width="0.15">+</text>
<text x="589.65" y="231.34" font-size="10.2" font-weight="bold" text-anchor="middle" fill="#111"  stroke-width="0.15">+</text>
</g>
<g id="panelC">
<rect x="48.70" y="267.30" width="17.00" height="11.70" fill="#ffffff" stroke="#333" stroke-width="0.8" />
<text x="69.00" y="276.20" font-size="8.05" font-weight="bold" text-anchor="start" fill="#111"  >Vector</text>
<rect x="102.90" y="267.30" width="17.00" height="11.70" fill="#707070" stroke="#333" stroke-width="0.8" />
<text x="122.40" y="276.20" font-size="8.05" font-weight="bold" text-anchor="start" fill="#111"  >CEP55</text>
<rect x="155.20" y="267.30" width="17.00" height="11.70" fill="#d9d9d9" stroke="#333" stroke-width="0.8" />
<text x="174.70" y="276.20" font-size="8.05" font-weight="bold" text-anchor="start" fill="#111"  >Scramble</text>
<rect x="218.20" y="267.30" width="17.00" height="11.70" fill="#2a2a2a" stroke="#333" stroke-width="0.8" />
<text x="237.20" y="276.20" font-size="8.05" font-weight="bold" text-anchor="start" fill="#111"  >shCEP55#1</text>
<rect x="288.50" y="267.30" width="17.00" height="11.70" fill="#a8a8a8" stroke="#333" stroke-width="0.8" />
<text x="307.80" y="276.20" font-size="8.05" font-weight="bold" text-anchor="start" fill="#111"  >shCEP55#2</text>
<line x1="41.00" y1="290.42" x2="41.00" y2="361.10" stroke="#111" stroke-width="1.2"/>
<line x1="41.00" y1="360.60" x2="448.30" y2="360.60" stroke="#111" stroke-width="1.3"/>
<line x1="36.80" y1="360.60" x2="41.00" y2="360.60" stroke="#111" stroke-width="1.1"/>
<text x="36.20" y="363.80" font-size="9" font-weight="bold" text-anchor="end" fill="#111"  >0</text>
<line x1="36.80" y1="348.97" x2="41.00" y2="348.97" stroke="#111" stroke-width="1.1"/>
<text x="36.20" y="352.17" font-size="9" font-weight="bold" text-anchor="end" fill="#111"  >1</text>
<line x1="36.80" y1="337.34" x2="41.00" y2="337.34" stroke="#111" stroke-width="1.1"/>
<text x="36.20" y="340.54" font-size="9" font-weight="bold" text-anchor="end" fill="#111"  >2</text>
<line x1="36.80" y1="325.71" x2="41.00" y2="325.71" stroke="#111" stroke-width="1.1"/>
<text x="36.20" y="328.91" font-size="9" font-weight="bold" text-anchor="end" fill="#111"  >3</text>
<line x1="36.80" y1="314.08" x2="41.00" y2="314.08" stroke="#111" stroke-width="1.1"/>
<text x="36.20" y="317.28" font-size="9" font-weight="bold" text-anchor="end" fill="#111"  >4</text>
<line x1="36.80" y1="302.45" x2="41.00" y2="302.45" stroke="#111" stroke-width="1.1"/>
<text x="36.20" y="305.65" font-size="9" font-weight="bold" text-anchor="end" fill="#111"  >5</text>
<line x1="36.80" y1="290.82" x2="41.00" y2="290.82" stroke="#111" stroke-width="1.1"/>
<text x="36.20" y="294.02" font-size="9" font-weight="bold" text-anchor="end" fill="#111"  >6</text>
<text transform="translate(25.20,325.50) rotate(-90)" font-size="9.9" font-weight="bold" text-anchor="middle" fill="#111">mRNA expression</text>
<rect x="47.50" y="348.62" width="9.75" height="11.98" fill="#ffffff" stroke="#222" stroke-width="0.7" />
<rect x="57.25" y="310.24" width="9.75" height="50.36" fill="#707070" stroke="#222" stroke-width="0.7" />
<line x1="62.12" y1="306.75" x2="62.12" y2="313.73" stroke="#222" stroke-width="0.7"/>
<line x1="59.92" y1="306.75" x2="64.33" y2="306.75" stroke="#222" stroke-width="0.7"/>
<line x1="59.92" y1="313.73" x2="64.33" y2="313.73" stroke="#222" stroke-width="0.7"/>
<text x="61.83" y="297.90" font-size="5.5" font-weight="bold" text-anchor="middle" fill="#111"  stroke-width="0" font-family="'Liberation Sans', 'DejaVu Sans', sans-serif">★</text>
<rect x="67.00" y="347.57" width="9.75" height="13.03" fill="#d9d9d9" stroke="#222" stroke-width="0.7" />
<line x1="71.88" y1="346.41" x2="71.88" y2="348.74" stroke="#555" stroke-width="0.7"/>
<line x1="69.67" y1="346.41" x2="74.08" y2="346.41" stroke="#555" stroke-width="0.7"/>
<rect x="76.75" y="355.37" width="9.75" height="5.23" fill="#2a2a2a" stroke="#222" stroke-width="0.7" />
<line x1="81.62" y1="354.20" x2="81.62" y2="356.53" stroke="#222" stroke-width="0.7"/>
<line x1="79.42" y1="354.20" x2="83.83" y2="354.20" stroke="#222" stroke-width="0.7"/>
<text x="81.12" y="349.20" font-size="5.5" font-weight="bold" text-anchor="middle" fill="#111"  stroke-width="0" font-family="'Liberation Sans', 'DejaVu Sans', sans-serif">★</text>
<rect x="86.50" y="356.76" width="9.75" height="3.84" fill="#a8a8a8" stroke="#222" stroke-width="0.7" />
<line x1="91.38" y1="355.83" x2="91.38" y2="357.69" stroke="#222" stroke-width="0.7"/>
<line x1="89.17" y1="355.83" x2="93.58" y2="355.83" stroke="#222" stroke-width="0.7"/>
<text x="90.88" y="349.90" font-size="5.5" font-weight="bold" text-anchor="middle" fill="#111"  stroke-width="0" font-family="'Liberation Sans', 'DejaVu Sans', sans-serif">★</text>
<rect x="105.20" y="348.62" width="9.75" height="11.98" fill="#ffffff" stroke="#222" stroke-width="0.7" />
<rect x="114.95" y="310.94" width="9.75" height="49.66" fill="#707070" stroke="#222" stroke-width="0.7" />
<line x1="119.83" y1="308.03" x2="119.83" y2="313.85" stroke="#222" stroke-width="0.7"/>
<line x1="117.62" y1="308.03" x2="122.03" y2="308.03" stroke="#222" stroke-width="0.7"/>
<line x1="117.62" y1="313.85" x2="122.03" y2="313.85" stroke="#222" stroke-width="0.7"/>
<text x="119.53" y="300.50" font-size="5.5" font-weight="bold" text-anchor="middle" fill="#111"  stroke-width="0" font-family="'Liberation Sans', 'DejaVu Sans', sans-serif">★</text>
<rect x="124.70" y="349.78" width="9.75" height="10.82" fill="#d9d9d9" stroke="#222" stroke-width="0.7" />
<line x1="129.57" y1="348.62" x2="129.57" y2="350.95" stroke="#555" stroke-width="0.7"/>
<line x1="127.37" y1="348.62" x2="131.77" y2="348.62" stroke="#555" stroke-width="0.7"/>
<rect x="134.45" y="355.72" width="9.75" height="4.88" fill="#2a2a2a" stroke="#222" stroke-width="0.7" />
<line x1="139.32" y1="354.55" x2="139.32" y2="356.88" stroke="#222" stroke-width="0.7"/>
<line x1="137.12" y1="354.55" x2="141.52" y2="354.55" stroke="#222" stroke-width="0.7"/>
<text x="138.82" y="348.20" font-size="5.5" font-weight="bold" text-anchor="middle" fill="#111"  stroke-width="0" font-family="'Liberation Sans', 'DejaVu Sans', sans-serif">★</text>
<rect x="144.20" y="355.95" width="9.75" height="4.65" fill="#a8a8a8" stroke="#222" stroke-width="0.7" />
<line x1="149.07" y1="355.02" x2="149.07" y2="356.88" stroke="#222" stroke-width="0.7"/>
<line x1="146.88" y1="355.02" x2="151.27" y2="355.02" stroke="#222" stroke-width="0.7"/>
<text x="148.57" y="349.20" font-size="5.5" font-weight="bold" text-anchor="middle" fill="#111"  stroke-width="0" font-family="'Liberation Sans', 'DejaVu Sans', sans-serif">★</text>
<rect x="163.30" y="348.62" width="9.75" height="11.98" fill="#ffffff" stroke="#222" stroke-width="0.7" />
<rect x="173.05" y="316.75" width="9.75" height="43.85" fill="#707070" stroke="#222" stroke-width="0.7" />
<line x1="177.93" y1="313.50" x2="177.93" y2="320.01" stroke="#222" stroke-width="0.7"/>
<line x1="175.73" y1="313.50" x2="180.12" y2="313.50" stroke="#222" stroke-width="0.7"/>
<line x1="175.73" y1="320.01" x2="180.12" y2="320.01" stroke="#222" stroke-width="0.7"/>
<text x="177.62" y="305.20" font-size="5.5" font-weight="bold" text-anchor="middle" fill="#111"  stroke-width="0" font-family="'Liberation Sans', 'DejaVu Sans', sans-serif">★</text>
<rect x="182.80" y="348.97" width="9.75" height="11.63" fill="#d9d9d9" stroke="#222" stroke-width="0.7" />
<line x1="187.68" y1="346.88" x2="187.68" y2="351.06" stroke="#555" stroke-width="0.7"/>
<line x1="185.48" y1="346.88" x2="189.88" y2="346.88" stroke="#555" stroke-width="0.7"/>
<rect x="192.55" y="355.95" width="9.75" height="4.65" fill="#2a2a2a" stroke="#222" stroke-width="0.7" />
<line x1="197.43" y1="354.20" x2="197.43" y2="357.69" stroke="#222" stroke-width="0.7"/>
<line x1="195.23" y1="354.20" x2="199.62" y2="354.20" stroke="#222" stroke-width="0.7"/>
<text x="196.93" y="349.40" font-size="5.5" font-weight="bold" text-anchor="middle" fill="#111"  stroke-width="0" font-family="'Liberation Sans', 'DejaVu Sans', sans-serif">★</text>
<rect x="202.30" y="354.79" width="9.75" height="5.81" fill="#a8a8a8" stroke="#222" stroke-width="0.7" />
<line x1="207.18" y1="353.97" x2="207.18" y2="355.60" stroke="#222" stroke-width="0.7"/>
<line x1="204.98" y1="353.97" x2="209.38" y2="353.97" stroke="#222" stroke-width="0.7"/>
<text x="206.68" y="348.70" font-size="5.5" font-weight="bold" text-anchor="middle" fill="#111"  stroke-width="0" font-family="'Liberation Sans', 'DejaVu Sans', sans-serif">★</text>
<rect x="219.80" y="348.62" width="9.75" height="11.98" fill="#ffffff" stroke="#222" stroke-width="0.7" />
<rect x="229.55" y="299.43" width="9.75" height="61.17" fill="#707070" stroke="#222" stroke-width="0.7" />
<line x1="234.43" y1="294.77" x2="234.43" y2="304.08" stroke="#222" stroke-width="0.7"/>
<line x1="232.23" y1="294.77" x2="236.62" y2="294.77" stroke="#222" stroke-width="0.7"/>
<line x1="232.23" y1="304.08" x2="236.62" y2="304.08" stroke="#222" stroke-width="0.7"/>
<text x="234.12" y="287.20" font-size="5.5" font-weight="bold" text-anchor="middle" fill="#111"  stroke-width="0" font-family="'Liberation Sans', 'DejaVu Sans', sans-serif">★</text>
<rect x="239.30" y="349.55" width="9.75" height="11.05" fill="#d9d9d9" stroke="#222" stroke-width="0.7" />
<line x1="244.18" y1="348.39" x2="244.18" y2="350.71" stroke="#555" stroke-width="0.7"/>
<line x1="241.98" y1="348.39" x2="246.38" y2="348.39" stroke="#555" stroke-width="0.7"/>
<rect x="249.05" y="356.76" width="9.75" height="3.84" fill="#2a2a2a" stroke="#222" stroke-width="0.7" />
<line x1="253.93" y1="355.83" x2="253.93" y2="357.69" stroke="#222" stroke-width="0.7"/>
<line x1="251.73" y1="355.83" x2="256.12" y2="355.83" stroke="#222" stroke-width="0.7"/>
<text x="253.43" y="349.90" font-size="5.5" font-weight="bold" text-anchor="middle" fill="#111"  stroke-width="0" font-family="'Liberation Sans', 'DejaVu Sans', sans-serif">★</text>
<rect x="258.80" y="356.18" width="9.75" height="4.42" fill="#a8a8a8" stroke="#222" stroke-width="0.7" />
<line x1="263.68" y1="355.25" x2="263.68" y2="357.11" stroke="#222" stroke-width="0.7"/>
<line x1="261.48" y1="355.25" x2="265.88" y2="355.25" stroke="#222" stroke-width="0.7"/>
<text x="263.18" y="348.70" font-size="5.5" font-weight="bold" text-anchor="middle" fill="#111"  stroke-width="0" font-family="'Liberation Sans', 'DejaVu Sans', sans-serif">★</text>
<rect x="275.90" y="348.62" width="9.75" height="11.98" fill="#ffffff" stroke="#222" stroke-width="0.7" />
<rect x="285.65" y="297.80" width="9.75" height="62.80" fill="#707070" stroke="#222" stroke-width="0.7" />
<line x1="290.52" y1="293.73" x2="290.52" y2="301.87" stroke="#222" stroke-width="0.7"/>
<line x1="288.32" y1="293.73" x2="292.72" y2="293.73" stroke="#222" stroke-width="0.7"/>
<line x1="288.32" y1="301.87" x2="292.72" y2="301.87" stroke="#222" stroke-width="0.7"/>
<text x="290.22" y="288.70" font-size="5.5" font-weight="bold" text-anchor="middle" fill="#111"  stroke-width="0" font-family="'Liberation Sans', 'DejaVu Sans', sans-serif">★</text>
<rect x="295.40" y="349.20" width="9.75" height="11.40" fill="#d9d9d9" stroke="#222" stroke-width="0.7" />
<line x1="300.27" y1="347.11" x2="300.27" y2="351.30" stroke="#555" stroke-width="0.7"/>
<line x1="298.07" y1="347.11" x2="302.47" y2="347.11" stroke="#555" stroke-width="0.7"/>
<rect x="305.15" y="357.69" width="9.75" height="2.91" fill="#2a2a2a" stroke="#222" stroke-width="0.7" />
<line x1="310.02" y1="357.11" x2="310.02" y2="358.27" stroke="#222" stroke-width="0.7"/>
<line x1="307.82" y1="357.11" x2="312.22" y2="357.11" stroke="#222" stroke-width="0.7"/>
<text x="309.52" y="350.80" font-size="5.5" font-weight="bold" text-anchor="middle" fill="#111"  stroke-width="0" font-family="'Liberation Sans', 'DejaVu Sans', sans-serif">★</text>
<rect x="314.90" y="358.27" width="9.75" height="2.33" fill="#a8a8a8" stroke="#222" stroke-width="0.7" />
<line x1="319.77" y1="357.69" x2="319.77" y2="358.86" stroke="#222" stroke-width="0.7"/>
<line x1="317.57" y1="357.69" x2="321.97" y2="357.69" stroke="#222" stroke-width="0.7"/>
<text x="319.27" y="351.80" font-size="5.5" font-weight="bold" text-anchor="middle" fill="#111"  stroke-width="0" font-family="'Liberation Sans', 'DejaVu Sans', sans-serif">★</text>
<rect x="335.60" y="348.62" width="9.75" height="11.98" fill="#ffffff" stroke="#222" stroke-width="0.7" />
<rect x="345.35" y="296.75" width="9.75" height="63.85" fill="#707070" stroke="#222" stroke-width="0.7" />
<line x1="350.23" y1="292.10" x2="350.23" y2="301.40" stroke="#222" stroke-width="0.7"/>
<line x1="348.03" y1="292.10" x2="352.43" y2="292.10" stroke="#222" stroke-width="0.7"/>
<line x1="348.03" y1="301.40" x2="352.43" y2="301.40" stroke="#222" stroke-width="0.7"/>
<text x="349.93" y="285.30" font-size="5.5" font-weight="bold" text-anchor="middle" fill="#111"  stroke-width="0" font-family="'Liberation Sans', 'DejaVu Sans', sans-serif">★</text>
<rect x="355.10" y="346.64" width="9.75" height="13.96" fill="#d9d9d9" stroke="#222" stroke-width="0.7" />
<line x1="359.98" y1="345.48" x2="359.98" y2="347.81" stroke="#555" stroke-width="0.7"/>
<line x1="357.78" y1="345.48" x2="362.18" y2="345.48" stroke="#555" stroke-width="0.7"/>
<rect x="364.85" y="357.34" width="9.75" height="3.26" fill="#2a2a2a" stroke="#222" stroke-width="0.7" />
<line x1="369.73" y1="356.76" x2="369.73" y2="357.93" stroke="#222" stroke-width="0.7"/>
<line x1="367.53" y1="356.76" x2="371.93" y2="356.76" stroke="#222" stroke-width="0.7"/>
<text x="369.23" y="350.80" font-size="5.5" font-weight="bold" text-anchor="middle" fill="#111"  stroke-width="0" font-family="'Liberation Sans', 'DejaVu Sans', sans-serif">★</text>
<rect x="374.60" y="355.72" width="9.75" height="4.88" fill="#a8a8a8" stroke="#222" stroke-width="0.7" />
<line x1="379.48" y1="354.55" x2="379.48" y2="356.88" stroke="#222" stroke-width="0.7"/>
<line x1="377.28" y1="354.55" x2="381.68" y2="354.55" stroke="#222" stroke-width="0.7"/>
<text x="378.98" y="348.70" font-size="5.5" font-weight="bold" text-anchor="middle" fill="#111"  stroke-width="0" font-family="'Liberation Sans', 'DejaVu Sans', sans-serif">★</text>
<rect x="392.00" y="348.62" width="9.75" height="11.98" fill="#ffffff" stroke="#222" stroke-width="0.7" />
<rect x="401.75" y="293.96" width="9.75" height="66.64" fill="#707070" stroke="#222" stroke-width="0.7" />
<line x1="406.62" y1="289.31" x2="406.62" y2="298.61" stroke="#222" stroke-width="0.7"/>
<line x1="404.43" y1="289.31" x2="408.82" y2="289.31" stroke="#222" stroke-width="0.7"/>
<line x1="404.43" y1="298.61" x2="408.82" y2="298.61" stroke="#222" stroke-width="0.7"/>
<text x="406.32" y="283.00" font-size="5.5" font-weight="bold" text-anchor="middle" fill="#111"  stroke-width="0" font-family="'Liberation Sans', 'DejaVu Sans', sans-serif">★</text>
<rect x="411.50" y="348.97" width="9.75" height="11.63" fill="#d9d9d9" stroke="#222" stroke-width="0.7" />
<line x1="416.38" y1="347.57" x2="416.38" y2="350.37" stroke="#555" stroke-width="0.7"/>
<line x1="414.18" y1="347.57" x2="418.57" y2="347.57" stroke="#555" stroke-width="0.7"/>
<rect x="421.25" y="357.11" width="9.75" height="3.49" fill="#2a2a2a" stroke="#222" stroke-width="0.7" />
<line x1="426.12" y1="356.18" x2="426.12" y2="358.04" stroke="#222" stroke-width="0.7"/>
<line x1="423.93" y1="356.18" x2="428.32" y2="356.18" stroke="#222" stroke-width="0.7"/>
<text x="425.62" y="349.90" font-size="5.5" font-weight="bold" text-anchor="middle" fill="#111"  stroke-width="0" font-family="'Liberation Sans', 'DejaVu Sans', sans-serif">★</text>
<rect x="431.00" y="356.53" width="9.75" height="4.07" fill="#a8a8a8" stroke="#222" stroke-width="0.7" />
<line x1="435.88" y1="355.60" x2="435.88" y2="357.46" stroke="#222" stroke-width="0.7"/>
<line x1="433.68" y1="355.60" x2="438.07" y2="355.60" stroke="#222" stroke-width="0.7"/>
<text x="435.38" y="348.70" font-size="5.5" font-weight="bold" text-anchor="middle" fill="#111"  stroke-width="0" font-family="'Liberation Sans', 'DejaVu Sans', sans-serif">★</text>
<text x="71.40" y="371.00" font-size="7.6" font-weight="bold" text-anchor="middle" fill="#111" font-style="italic" >MYC</text>
<text x="129.60" y="371.00" font-size="7.6" font-weight="bold" text-anchor="middle" fill="#111" font-style="italic" >CCND1</text>
<text x="187.20" y="371.00" font-size="7.6" font-weight="bold" text-anchor="middle" fill="#111" font-style="italic" >BCLXL</text>
<text x="244.00" y="371.00" font-size="7.6" font-weight="bold" text-anchor="middle" fill="#111" font-style="italic" >MMP9</text>
<text x="299.60" y="371.00" font-size="7.6" font-weight="bold" text-anchor="middle" fill="#111" font-style="italic" >TWIST</text>
<text x="360.40" y="371.00" font-size="7.6" font-weight="bold" text-anchor="middle" fill="#111" font-style="italic" >VEGFC</text>
<text x="416.40" y="371.00" font-size="7.6" font-weight="bold" text-anchor="middle" fill="#111" font-style="italic" >IL6</text>
<line x1="63.80" y1="374.50" x2="424.00" y2="374.50" stroke="#111" stroke-width="1.5"/>
<text x="242.40" y="384.00" font-size="8.2" font-weight="bold" text-anchor="middle" fill="#111"  >SW1990</text>
<line x1="41.00" y1="409.42" x2="41.00" y2="478.60" stroke="#111" stroke-width="1.2"/>
<line x1="41.00" y1="478.10" x2="446.70" y2="478.10" stroke="#111" stroke-width="1.3"/>
<line x1="36.80" y1="478.10" x2="41.00" y2="478.10" stroke="#111" stroke-width="1.1"/>
<text x="36.20" y="481.30" font-size="9" font-weight="bold" text-anchor="end" fill="#111"  >0</text>
<line x1="36.80" y1="466.72" x2="41.00" y2="466.72" stroke="#111" stroke-width="1.1"/>
<text x="36.20" y="469.92" font-size="9" font-weight="bold" text-anchor="end" fill="#111"  >1</text>
<line x1="36.80" y1="455.34" x2="41.00" y2="455.34" stroke="#111" stroke-width="1.1"/>
<text x="36.20" y="458.54" font-size="9" font-weight="bold" text-anchor="end" fill="#111"  >2</text>
<line x1="36.80" y1="443.96" x2="41.00" y2="443.96" stroke="#111" stroke-width="1.1"/>
<text x="36.20" y="447.16" font-size="9" font-weight="bold" text-anchor="end" fill="#111"  >3</text>
<line x1="36.80" y1="432.58" x2="41.00" y2="432.58" stroke="#111" stroke-width="1.1"/>
<text x="36.20" y="435.78" font-size="9" font-weight="bold" text-anchor="end" fill="#111"  >4</text>
<line x1="36.80" y1="421.20" x2="41.00" y2="421.20" stroke="#111" stroke-width="1.1"/>
<text x="36.20" y="424.40" font-size="9" font-weight="bold" text-anchor="end" fill="#111"  >5</text>
<line x1="36.80" y1="409.82" x2="41.00" y2="409.82" stroke="#111" stroke-width="1.1"/>
<text x="36.20" y="413.02" font-size="9" font-weight="bold" text-anchor="end" fill="#111"  >6</text>
<text transform="translate(25.20,444.00) rotate(-90)" font-size="9.9" font-weight="bold" text-anchor="middle" fill="#111">mRNA expression</text>
<rect x="47.40" y="466.38" width="9.75" height="11.72" fill="#ffffff" stroke="#222" stroke-width="0.7" />
<rect x="57.15" y="428.60" width="9.75" height="49.50" fill="#707070" stroke="#222" stroke-width="0.7" />
<line x1="62.02" y1="425.18" x2="62.02" y2="432.01" stroke="#222" stroke-width="0.7"/>
<line x1="59.82" y1="425.18" x2="64.22" y2="425.18" stroke="#222" stroke-width="0.7"/>
<line x1="59.82" y1="432.01" x2="64.22" y2="432.01" stroke="#222" stroke-width="0.7"/>
<text x="61.73" y="417.50" font-size="5.5" font-weight="bold" text-anchor="middle" fill="#111"  stroke-width="0" font-family="'Liberation Sans', 'DejaVu Sans', sans-serif">★</text>
<rect x="66.90" y="465.58" width="9.75" height="12.52" fill="#d9d9d9" stroke="#222" stroke-width="0.7" />
<line x1="71.78" y1="464.67" x2="71.78" y2="466.49" stroke="#555" stroke-width="0.7"/>
<line x1="69.58" y1="464.67" x2="73.98" y2="464.67" stroke="#555" stroke-width="0.7"/>
<rect x="76.65" y="472.07" width="9.75" height="6.03" fill="#2a2a2a" stroke="#222" stroke-width="0.7" />
<line x1="81.53" y1="470.70" x2="81.53" y2="473.43" stroke="#222" stroke-width="0.7"/>
<line x1="79.33" y1="470.70" x2="83.73" y2="470.70" stroke="#222" stroke-width="0.7"/>
<text x="81.03" y="466.20" font-size="5.5" font-weight="bold" text-anchor="middle" fill="#111"  stroke-width="0" font-family="'Liberation Sans', 'DejaVu Sans', sans-serif">★</text>
<rect x="86.40" y="472.98" width="9.75" height="5.12" fill="#a8a8a8" stroke="#222" stroke-width="0.7" />
<line x1="91.28" y1="471.84" x2="91.28" y2="474.12" stroke="#222" stroke-width="0.7"/>
<line x1="89.08" y1="471.84" x2="93.48" y2="471.84" stroke="#222" stroke-width="0.7"/>
<text x="90.78" y="467.50" font-size="5.5" font-weight="bold" text-anchor="middle" fill="#111"  stroke-width="0" font-family="'Liberation Sans', 'DejaVu Sans', sans-serif">★</text>
<rect x="105.00" y="466.38" width="9.75" height="11.72" fill="#ffffff" stroke="#222" stroke-width="0.7" />
<rect x="114.75" y="429.74" width="9.75" height="48.37" fill="#707070" stroke="#222" stroke-width="0.7" />
<line x1="119.62" y1="426.89" x2="119.62" y2="432.58" stroke="#222" stroke-width="0.7"/>
<line x1="117.42" y1="426.89" x2="121.83" y2="426.89" stroke="#222" stroke-width="0.7"/>
<line x1="117.42" y1="432.58" x2="121.83" y2="432.58" stroke="#222" stroke-width="0.7"/>
<text x="119.33" y="419.30" font-size="5.5" font-weight="bold" text-anchor="middle" fill="#111"  stroke-width="0" font-family="'Liberation Sans', 'DejaVu Sans', sans-serif">★</text>
<rect x="124.50" y="465.81" width="9.75" height="12.29" fill="#d9d9d9" stroke="#222" stroke-width="0.7" />
<line x1="129.38" y1="464.67" x2="129.38" y2="466.95" stroke="#555" stroke-width="0.7"/>
<line x1="127.17" y1="464.67" x2="131.57" y2="464.67" stroke="#555" stroke-width="0.7"/>
<rect x="134.25" y="472.41" width="9.75" height="5.69" fill="#2a2a2a" stroke="#222" stroke-width="0.7" />
<line x1="139.12" y1="471.50" x2="139.12" y2="473.32" stroke="#222" stroke-width="0.7"/>
<line x1="136.93" y1="471.50" x2="141.32" y2="471.50" stroke="#222" stroke-width="0.7"/>
<text x="138.62" y="465.10" font-size="5.5" font-weight="bold" text-anchor="middle" fill="#111"  stroke-width="0" font-family="'Liberation Sans', 'DejaVu Sans', sans-serif">★</text>
<rect x="144.00" y="473.55" width="9.75" height="4.55" fill="#a8a8a8" stroke="#222" stroke-width="0.7" />
<line x1="148.88" y1="472.64" x2="148.88" y2="474.46" stroke="#222" stroke-width="0.7"/>
<line x1="146.68" y1="472.64" x2="151.07" y2="472.64" stroke="#222" stroke-width="0.7"/>
<text x="148.38" y="468.80" font-size="5.5" font-weight="bold" text-anchor="middle" fill="#111"  stroke-width="0" font-family="'Liberation Sans', 'DejaVu Sans', sans-serif">★</text>
<rect x="162.90" y="466.38" width="9.75" height="11.72" fill="#ffffff" stroke="#222" stroke-width="0.7" />
<rect x="172.65" y="435.08" width="9.75" height="43.02" fill="#707070" stroke="#222" stroke-width="0.7" />
<line x1="177.53" y1="431.67" x2="177.53" y2="438.50" stroke="#222" stroke-width="0.7"/>
<line x1="175.33" y1="431.67" x2="179.72" y2="431.67" stroke="#222" stroke-width="0.7"/>
<line x1="175.33" y1="438.50" x2="179.72" y2="438.50" stroke="#222" stroke-width="0.7"/>
<text x="177.22" y="423.20" font-size="5.5" font-weight="bold" text-anchor="middle" fill="#111"  stroke-width="0" font-family="'Liberation Sans', 'DejaVu Sans', sans-serif">★</text>
<rect x="182.40" y="467.63" width="9.75" height="10.47" fill="#d9d9d9" stroke="#222" stroke-width="0.7" />
<line x1="187.28" y1="464.79" x2="187.28" y2="470.48" stroke="#555" stroke-width="0.7"/>
<line x1="185.08" y1="464.79" x2="189.47" y2="464.79" stroke="#555" stroke-width="0.7"/>
<rect x="192.15" y="472.18" width="9.75" height="5.92" fill="#2a2a2a" stroke="#222" stroke-width="0.7" />
<line x1="197.03" y1="471.27" x2="197.03" y2="473.09" stroke="#222" stroke-width="0.7"/>
<line x1="194.83" y1="471.27" x2="199.22" y2="471.27" stroke="#222" stroke-width="0.7"/>
<text x="196.53" y="466.20" font-size="5.5" font-weight="bold" text-anchor="middle" fill="#111"  stroke-width="0" font-family="'Liberation Sans', 'DejaVu Sans', sans-serif">★</text>
<rect x="201.90" y="472.98" width="9.75" height="5.12" fill="#a8a8a8" stroke="#222" stroke-width="0.7" />
<line x1="206.78" y1="472.18" x2="206.78" y2="473.78" stroke="#222" stroke-width="0.7"/>
<line x1="204.58" y1="472.18" x2="208.97" y2="472.18" stroke="#222" stroke-width="0.7"/>
<text x="206.28" y="467.50" font-size="5.5" font-weight="bold" text-anchor="middle" fill="#111"  stroke-width="0" font-family="'Liberation Sans', 'DejaVu Sans', sans-serif">★</text>
<rect x="218.90" y="466.38" width="9.75" height="11.72" fill="#ffffff" stroke="#222" stroke-width="0.7" />
<rect x="228.65" y="418.24" width="9.75" height="59.86" fill="#707070" stroke="#222" stroke-width="0.7" />
<line x1="233.53" y1="413.69" x2="233.53" y2="422.79" stroke="#222" stroke-width="0.7"/>
<line x1="231.33" y1="413.69" x2="235.72" y2="413.69" stroke="#222" stroke-width="0.7"/>
<line x1="231.33" y1="422.79" x2="235.72" y2="422.79" stroke="#222" stroke-width="0.7"/>
<text x="233.22" y="405.80" font-size="5.5" font-weight="bold" text-anchor="middle" fill="#111"  stroke-width="0" font-family="'Liberation Sans', 'DejaVu Sans', sans-serif">★</text>
<rect x="238.40" y="466.72" width="9.75" height="11.38" fill="#d9d9d9" stroke="#222" stroke-width="0.7" />
<line x1="243.28" y1="464.44" x2="243.28" y2="469.00" stroke="#555" stroke-width="0.7"/>
<line x1="241.08" y1="464.44" x2="245.47" y2="464.44" stroke="#555" stroke-width="0.7"/>
<rect x="248.15" y="473.78" width="9.75" height="4.32" fill="#2a2a2a" stroke="#222" stroke-width="0.7" />
<line x1="253.03" y1="472.87" x2="253.03" y2="474.69" stroke="#222" stroke-width="0.7"/>
<line x1="250.83" y1="472.87" x2="255.22" y2="472.87" stroke="#222" stroke-width="0.7"/>
<text x="252.53" y="467.70" font-size="5.5" font-weight="bold" text-anchor="middle" fill="#111"  stroke-width="0" font-family="'Liberation Sans', 'DejaVu Sans', sans-serif">★</text>
<rect x="257.90" y="473.78" width="9.75" height="4.32" fill="#a8a8a8" stroke="#222" stroke-width="0.7" />
<line x1="262.77" y1="471.50" x2="262.77" y2="476.05" stroke="#222" stroke-width="0.7"/>
<line x1="260.57" y1="471.50" x2="264.97" y2="471.50" stroke="#222" stroke-width="0.7"/>
<text x="262.27" y="465.10" font-size="5.5" font-weight="bold" text-anchor="middle" fill="#111"  stroke-width="0" font-family="'Liberation Sans', 'DejaVu Sans', sans-serif">★</text>
<rect x="274.90" y="466.38" width="9.75" height="11.72" fill="#ffffff" stroke="#222" stroke-width="0.7" />
<rect x="284.65" y="417.44" width="9.75" height="60.66" fill="#707070" stroke="#222" stroke-width="0.7" />
<line x1="289.52" y1="412.32" x2="289.52" y2="422.57" stroke="#222" stroke-width="0.7"/>
<line x1="287.32" y1="412.32" x2="291.72" y2="412.32" stroke="#222" stroke-width="0.7"/>
<line x1="287.32" y1="422.57" x2="291.72" y2="422.57" stroke="#222" stroke-width="0.7"/>
<text x="289.22" y="407.10" font-size="5.5" font-weight="bold" text-anchor="middle" fill="#111"  stroke-width="0" font-family="'Liberation Sans', 'DejaVu Sans', sans-serif">★</text>
<rect x="294.40" y="467.29" width="9.75" height="10.81" fill="#d9d9d9" stroke="#222" stroke-width="0.7" />
<line x1="299.27" y1="464.44" x2="299.27" y2="470.13" stroke="#555" stroke-width="0.7"/>
<line x1="297.07" y1="464.44" x2="301.47" y2="464.44" stroke="#555" stroke-width="0.7"/>
<rect x="304.15" y="473.32" width="9.75" height="4.78" fill="#2a2a2a" stroke="#222" stroke-width="0.7" />
<line x1="309.02" y1="472.75" x2="309.02" y2="473.89" stroke="#222" stroke-width="0.7"/>
<line x1="306.82" y1="472.75" x2="311.22" y2="472.75" stroke="#222" stroke-width="0.7"/>
<text x="308.52" y="466.90" font-size="5.5" font-weight="bold" text-anchor="middle" fill="#111"  stroke-width="0" font-family="'Liberation Sans', 'DejaVu Sans', sans-serif">★</text>
<rect x="313.90" y="473.32" width="9.75" height="4.78" fill="#a8a8a8" stroke="#222" stroke-width="0.7" />
<line x1="318.77" y1="472.18" x2="318.77" y2="474.46" stroke="#222" stroke-width="0.7"/>
<line x1="316.57" y1="472.18" x2="320.97" y2="472.18" stroke="#222" stroke-width="0.7"/>
<text x="318.27" y="468.30" font-size="5.5" font-weight="bold" text-anchor="middle" fill="#111"  stroke-width="0" font-family="'Liberation Sans', 'DejaVu Sans', sans-serif">★</text>
<rect x="334.80" y="466.38" width="9.75" height="11.72" fill="#ffffff" stroke="#222" stroke-width="0.7" />
<rect x="344.55" y="416.08" width="9.75" height="62.02" fill="#707070" stroke="#222" stroke-width="0.7" />
<line x1="349.43" y1="410.96" x2="349.43" y2="421.20" stroke="#222" stroke-width="0.7"/>
<line x1="347.23" y1="410.96" x2="351.62" y2="410.96" stroke="#222" stroke-width="0.7"/>
<line x1="347.23" y1="421.20" x2="351.62" y2="421.20" stroke="#222" stroke-width="0.7"/>
<text x="349.12" y="404.50" font-size="5.5" font-weight="bold" text-anchor="middle" fill="#111"  stroke-width="0" font-family="'Liberation Sans', 'DejaVu Sans', sans-serif">★</text>
<rect x="354.30" y="466.15" width="9.75" height="11.95" fill="#d9d9d9" stroke="#222" stroke-width="0.7" />
<line x1="359.18" y1="465.24" x2="359.18" y2="467.06" stroke="#555" stroke-width="0.7"/>
<line x1="356.98" y1="465.24" x2="361.38" y2="465.24" stroke="#555" stroke-width="0.7"/>
<rect x="364.05" y="473.32" width="9.75" height="4.78" fill="#2a2a2a" stroke="#222" stroke-width="0.7" />
<line x1="368.93" y1="471.61" x2="368.93" y2="475.03" stroke="#222" stroke-width="0.7"/>
<line x1="366.73" y1="471.61" x2="371.12" y2="471.61" stroke="#222" stroke-width="0.7"/>
<text x="368.43" y="465.70" font-size="5.5" font-weight="bold" text-anchor="middle" fill="#111"  stroke-width="0" font-family="'Liberation Sans', 'DejaVu Sans', sans-serif">★</text>
<rect x="373.80" y="472.98" width="9.75" height="5.12" fill="#a8a8a8" stroke="#222" stroke-width="0.7" />
<line x1="378.68" y1="472.07" x2="378.68" y2="473.89" stroke="#222" stroke-width="0.7"/>
<line x1="376.48" y1="472.07" x2="380.88" y2="472.07" stroke="#222" stroke-width="0.7"/>
<text x="378.18" y="466.40" font-size="5.5" font-weight="bold" text-anchor="middle" fill="#111"  stroke-width="0" font-family="'Liberation Sans', 'DejaVu Sans', sans-serif">★</text>
<rect x="390.60" y="466.38" width="9.75" height="11.72" fill="#ffffff" stroke="#222" stroke-width="0.7" />
<rect x="400.35" y="412.44" width="9.75" height="65.66" fill="#707070" stroke="#222" stroke-width="0.7" />
<line x1="405.23" y1="407.89" x2="405.23" y2="416.99" stroke="#222" stroke-width="0.7"/>
<line x1="403.03" y1="407.89" x2="407.43" y2="407.89" stroke="#222" stroke-width="0.7"/>
<line x1="403.03" y1="416.99" x2="407.43" y2="416.99" stroke="#222" stroke-width="0.7"/>
<text x="400.12" y="396.69" font-size="7.8" font-weight="bold" text-anchor="middle" fill="#111"  stroke-width="0" font-family="'Liberation Sans', 'DejaVu Sans', sans-serif">★</text>
<rect x="410.10" y="465.35" width="9.75" height="12.75" fill="#d9d9d9" stroke="#222" stroke-width="0.7" />
<line x1="414.98" y1="463.08" x2="414.98" y2="467.63" stroke="#555" stroke-width="0.7"/>
<line x1="412.78" y1="463.08" x2="417.18" y2="463.08" stroke="#555" stroke-width="0.7"/>
<rect x="419.85" y="473.78" width="9.75" height="4.32" fill="#2a2a2a" stroke="#222" stroke-width="0.7" />
<line x1="424.73" y1="473.21" x2="424.73" y2="474.34" stroke="#222" stroke-width="0.7"/>
<line x1="422.53" y1="473.21" x2="426.93" y2="473.21" stroke="#222" stroke-width="0.7"/>
<text x="424.23" y="467.70" font-size="5.5" font-weight="bold" text-anchor="middle" fill="#111"  stroke-width="0" font-family="'Liberation Sans', 'DejaVu Sans', sans-serif">★</text>
<rect x="429.60" y="475.60" width="9.75" height="2.50" fill="#a8a8a8" stroke="#222" stroke-width="0.7" />
<line x1="434.48" y1="475.03" x2="434.48" y2="476.17" stroke="#222" stroke-width="0.7"/>
<line x1="432.28" y1="475.03" x2="436.68" y2="475.03" stroke="#222" stroke-width="0.7"/>
<text x="433.98" y="469.60" font-size="5.5" font-weight="bold" text-anchor="middle" fill="#111"  stroke-width="0" font-family="'Liberation Sans', 'DejaVu Sans', sans-serif">★</text>
<text x="76.00" y="487.40" font-size="7.6" font-weight="bold" text-anchor="middle" fill="#111" font-style="italic" >MYC</text>
<text x="129.40" y="487.40" font-size="7.6" font-weight="bold" text-anchor="middle" fill="#111" font-style="italic" >CCND1</text>
<text x="187.00" y="487.40" font-size="7.6" font-weight="bold" text-anchor="middle" fill="#111" font-style="italic" >BCLXL</text>
<text x="243.00" y="487.40" font-size="7.6" font-weight="bold" text-anchor="middle" fill="#111" font-style="italic" >MMP9</text>
<text x="299.60" y="487.40" font-size="7.6" font-weight="bold" text-anchor="middle" fill="#111" font-style="italic" >TWIST</text>
<text x="360.40" y="487.40" font-size="7.6" font-weight="bold" text-anchor="middle" fill="#111" font-style="italic" >VEGFC</text>
<text x="415.00" y="487.40" font-size="7.6" font-weight="bold" text-anchor="middle" fill="#111" font-style="italic" >IL6</text>
<line x1="69.00" y1="491.00" x2="420.00" y2="491.00" stroke="#111" stroke-width="1.5"/>
<text x="246.40" y="503.00" font-size="9.9" font-weight="bold" text-anchor="middle" fill="#111"  >Capan-1</text>
</g>
<g id="panelD">
<text transform="translate(492.60,283.20) rotate(-45)" font-size="6.3" font-weight="bold" text-anchor="start" fill="#111" stroke-width="0.45">Vector</text>
<text transform="translate(515.20,283.20) rotate(-45)" font-size="6.3" font-weight="bold" text-anchor="start" fill="#111" stroke-width="0.45">CEP55</text>
<text transform="translate(540.70,283.20) rotate(-45)" font-size="6.3" font-weight="bold" text-anchor="start" fill="#111" stroke-width="0.45">Scramble</text>
<text transform="translate(566.20,283.20) rotate(-45)" font-size="6.3" font-weight="bold" text-anchor="start" fill="#111" stroke-width="0.45">shCEP55#1</text>
<text transform="translate(588.50,283.20) rotate(-45)" font-size="6.3" font-weight="bold" text-anchor="start" fill="#111" stroke-width="0.45">shCEP55#2</text>
<rect x="481.40" y="285.00" width="118.60" height="84.00" fill="#f4f4f4"  />
<clipPath id="d1a"><rect x="481.4" y="285" width="118.60000000000002" height="20.80000000000001"/></clipPath>
<rect x="481.40" y="285.00" width="118.60" height="20.80" fill="#a6a6a6"  />
<g clip-path="url(#d1a)">
<rect x="491.75" y="294.90" width="13.50" height="2.20" rx="1.10" fill="#141414" opacity="0.85" filter="url(#be)"/>
<ellipse cx="498.50" cy="296.00" rx="9.25" ry="1.36" fill="#151515" opacity="0.7224999999999999" filter="url(#be)"/>
<rect x="512.85" y="293.75" width="14.50" height="4.50" rx="2.25" fill="#141414" opacity="0.95" filter="url(#be)"/>
<ellipse cx="520.10" cy="296.00" rx="9.75" ry="2.28" fill="#151515" opacity="0.8075" filter="url(#be)"/>
<rect x="532.55" y="294.35" width="14.50" height="3.30" rx="1.65" fill="#141414" opacity="0.92" filter="url(#be)"/>
<ellipse cx="539.80" cy="296.00" rx="9.75" ry="1.80" fill="#151515" opacity="0.782" filter="url(#be)"/>
<rect x="557.30" y="295.25" width="10.00" height="1.50" rx="0.75" fill="#141414" opacity="0.4" filter="url(#be)"/>
<ellipse cx="562.30" cy="296.00" rx="7.50" ry="1.10" fill="#151515" opacity="0.34" filter="url(#be)"/>
<rect x="579.75" y="294.90" width="12.50" height="2.20" rx="1.10" fill="#141414" opacity="0.8" filter="url(#be)"/>
<ellipse cx="586.00" cy="296.00" rx="8.75" ry="1.36" fill="#151515" opacity="0.68" filter="url(#be)"/>
</g>
<clipPath id="d1b"><rect x="481.4" y="305.8" width="118.60000000000002" height="21.0"/></clipPath>
<rect x="481.40" y="305.80" width="118.60" height="21.00" fill="#8a8a8a"  />
<g clip-path="url(#d1b)">
<rect x="492.25" y="315.65" width="12.50" height="1.50" rx="0.75" fill="#141414" opacity="0.8" filter="url(#be)"/>
<ellipse cx="498.50" cy="316.40" rx="8.75" ry="1.10" fill="#151515" opacity="0.68" filter="url(#be)"/>
<rect x="513.60" y="314.75" width="13.00" height="3.30" rx="1.65" fill="#141414" opacity="0.9" filter="url(#be)"/>
<ellipse cx="520.10" cy="316.40" rx="9.00" ry="1.80" fill="#151515" opacity="0.765" filter="url(#be)"/>
<rect x="533.05" y="315.40" width="13.50" height="2.00" rx="1.00" fill="#141414" opacity="0.85" filter="url(#be)"/>
<ellipse cx="539.80" cy="316.40" rx="9.25" ry="1.28" fill="#151515" opacity="0.7224999999999999" filter="url(#be)"/>
<rect x="557.05" y="315.65" width="10.50" height="1.50" rx="0.75" fill="#141414" opacity="0.3" filter="url(#be)"/>
<ellipse cx="562.30" cy="316.40" rx="7.75" ry="1.10" fill="#151515" opacity="0.255" filter="url(#be)"/>
<rect x="579.75" y="315.65" width="12.50" height="1.50" rx="0.75" fill="#141414" opacity="0.5" filter="url(#be)"/>
<ellipse cx="586.00" cy="316.40" rx="8.75" ry="1.10" fill="#151515" opacity="0.425" filter="url(#be)"/>
</g>
<clipPath id="d1c"><rect x="481.4" y="328.2" width="118.60000000000002" height="19.80000000000001"/></clipPath>
<rect x="481.40" y="328.20" width="118.60" height="19.80" fill="#8b8b8b"  />
<g clip-path="url(#d1c)">
<rect x="491.00" y="334.30" width="15.00" height="6.80" rx="3.40" fill="#141414" opacity="0.97" filter="url(#be)"/>
<ellipse cx="498.50" cy="337.70" rx="10.00" ry="3.20" fill="#151515" opacity="0.8245" filter="url(#be)"/>
<rect x="510.85" y="333.30" width="18.50" height="8.80" rx="4.40" fill="#141414" opacity="1" filter="url(#be)"/>
<ellipse cx="520.10" cy="337.70" rx="11.75" ry="4.00" fill="#151515" opacity="0.85" filter="url(#be)"/>
<rect x="533.05" y="335.10" width="13.50" height="5.20" rx="2.60" fill="#141414" opacity="0.95" filter="url(#be)"/>
<ellipse cx="539.80" cy="337.70" rx="9.25" ry="2.56" fill="#151515" opacity="0.8075" filter="url(#be)"/>
<rect x="557.55" y="336.25" width="9.50" height="2.90" rx="1.45" fill="#141414" opacity="0.9" filter="url(#be)"/>
<ellipse cx="562.30" cy="337.70" rx="7.25" ry="1.64" fill="#151515" opacity="0.765" filter="url(#be)"/>
<rect x="580.25" y="335.80" width="11.50" height="3.80" rx="1.90" fill="#141414" opacity="0.92" filter="url(#be)"/>
<ellipse cx="586.00" cy="337.70" rx="8.25" ry="2.00" fill="#151515" opacity="0.782" filter="url(#be)"/>
</g>
<clipPath id="d1d"><rect x="481.4" y="350.1" width="118.60000000000002" height="18.899999999999977"/></clipPath>
<rect x="481.40" y="350.10" width="118.60" height="18.90" fill="#979797"  />
<g clip-path="url(#d1d)">
<rect x="491.00" y="358.10" width="15.00" height="5.40" rx="2.70" fill="#141414" opacity="0.97" filter="url(#be)"/>
<ellipse cx="498.50" cy="360.80" rx="10.00" ry="2.64" fill="#151515" opacity="0.8245" filter="url(#be)"/>
<rect x="512.85" y="358.20" width="14.50" height="5.20" rx="2.60" fill="#141414" opacity="0.97" filter="url(#be)"/>
<ellipse cx="520.10" cy="360.80" rx="9.75" ry="2.56" fill="#151515" opacity="0.8245" filter="url(#be)"/>
<rect x="532.30" y="358.10" width="15.00" height="5.40" rx="2.70" fill="#141414" opacity="0.97" filter="url(#be)"/>
<ellipse cx="539.80" cy="360.80" rx="10.00" ry="2.64" fill="#151515" opacity="0.8245" filter="url(#be)"/>
<rect x="555.05" y="358.10" width="14.50" height="5.40" rx="2.70" fill="#141414" opacity="0.97" filter="url(#be)"/>
<ellipse cx="562.30" cy="360.80" rx="9.75" ry="2.64" fill="#151515" opacity="0.8245" filter="url(#be)"/>
<rect x="579.00" y="358.20" width="14.00" height="5.20" rx="2.60" fill="#141414" opacity="0.97" filter="url(#be)"/>
<ellipse cx="586.00" cy="360.80" rx="9.50" ry="2.56" fill="#151515" opacity="0.8245" filter="url(#be)"/>
</g>
<text x="474.70" y="297.70" font-size="6.9" font-weight="bold" text-anchor="end" fill="#111"  >C-Myc</text>
<text x="476.60" y="318.70" font-size="6.9" font-weight="bold" text-anchor="end" fill="#111"  >Cyclin D1</text>
<text x="475.80" y="340.50" font-size="6.9" font-weight="bold" text-anchor="end" fill="#111"  >BCLXL</text>
<text x="476.40" y="360.30" font-size="6.9" font-weight="bold" text-anchor="end" fill="#111"  >GAPDH</text>
<text x="541.00" y="379.20" font-size="7" font-weight="bold" text-anchor="middle" fill="#111"  >SW1990</text>
<text transform="translate(489.80,406.20) rotate(-45)" font-size="6.3" font-weight="bold" text-anchor="start" fill="#111" stroke-width="0.45">Vector</text>
<text transform="translate(513.20,406.20) rotate(-45)" font-size="6.3" font-weight="bold" text-anchor="start" fill="#111" stroke-width="0.45">CEP55</text>
<text transform="translate(539.20,406.20) rotate(-45)" font-size="6.3" font-weight="bold" text-anchor="start" fill="#111" stroke-width="0.45">Scramble</text>
<text transform="translate(564.80,406.20) rotate(-45)" font-size="6.3" font-weight="bold" text-anchor="start" fill="#111" stroke-width="0.45">shCEP55#1</text>
<text transform="translate(587.40,406.20) rotate(-45)" font-size="6.3" font-weight="bold" text-anchor="start" fill="#111" stroke-width="0.45">shCEP55#2</text>
<rect x="482.30" y="408.70" width="119.70" height="85.20" fill="#f4f4f4"  />
<clipPath id="d2a"><rect x="482.3" y="408.7" width="119.69999999999999" height="20.19999999999999"/></clipPath>
<rect x="482.30" y="408.70" width="119.70" height="20.20" fill="#858585"  />
<g clip-path="url(#d2a)">
<rect x="489.70" y="416.40" width="13.00" height="3.80" rx="1.90" fill="#141414" opacity="0.93" filter="url(#be)"/>
<ellipse cx="496.20" cy="418.30" rx="9.00" ry="2.00" fill="#151515" opacity="0.7905" filter="url(#be)"/>
<rect x="511.50" y="415.90" width="14.00" height="4.80" rx="2.40" fill="#141414" opacity="0.93" filter="url(#be)"/>
<ellipse cx="518.50" cy="418.30" rx="9.50" ry="2.40" fill="#151515" opacity="0.7905" filter="url(#be)"/>
<rect x="534.35" y="416.80" width="12.50" height="3.00" rx="1.50" fill="#141414" opacity="0.9" filter="url(#be)"/>
<ellipse cx="540.60" cy="418.30" rx="8.75" ry="1.68" fill="#151515" opacity="0.765" filter="url(#be)"/>
<rect x="557.30" y="417.55" width="10.00" height="1.50" rx="0.75" fill="#141414" opacity="0.7" filter="url(#be)"/>
<ellipse cx="562.30" cy="418.30" rx="7.50" ry="1.10" fill="#151515" opacity="0.595" filter="url(#be)"/>
<rect x="578.75" y="417.10" width="12.50" height="2.40" rx="1.20" fill="#141414" opacity="0.88" filter="url(#be)"/>
<ellipse cx="585.00" cy="418.30" rx="8.75" ry="1.44" fill="#151515" opacity="0.748" filter="url(#be)"/>
</g>
<clipPath id="d2b"><rect x="482.3" y="429.7" width="119.69999999999999" height="21.100000000000023"/></clipPath>
<rect x="482.30" y="429.70" width="119.70" height="21.10" fill="#acacac"  />
<g clip-path="url(#d2b)">
<rect x="489.95" y="440.20" width="12.50" height="1.60" rx="0.80" fill="#141414" opacity="0.85" filter="url(#be)"/>
<ellipse cx="496.20" cy="441.00" rx="8.75" ry="1.12" fill="#151515" opacity="0.7224999999999999" filter="url(#be)"/>
<rect x="511.25" y="439.10" width="14.50" height="3.80" rx="1.90" fill="#141414" opacity="0.93" filter="url(#be)"/>
<ellipse cx="518.50" cy="441.00" rx="9.75" ry="2.00" fill="#151515" opacity="0.7905" filter="url(#be)"/>
<rect x="533.85" y="439.30" width="13.50" height="3.40" rx="1.70" fill="#141414" opacity="0.92" filter="url(#be)"/>
<ellipse cx="540.60" cy="441.00" rx="9.25" ry="1.84" fill="#151515" opacity="0.782" filter="url(#be)"/>
<rect x="556.55" y="440.25" width="11.50" height="1.50" rx="0.75" fill="#141414" opacity="0.8" filter="url(#be)"/>
<ellipse cx="562.30" cy="441.00" rx="8.25" ry="1.10" fill="#151515" opacity="0.68" filter="url(#be)"/>
<rect x="578.75" y="439.85" width="12.50" height="2.30" rx="1.15" fill="#141414" opacity="0.88" filter="url(#be)"/>
<ellipse cx="585.00" cy="441.00" rx="8.75" ry="1.40" fill="#151515" opacity="0.748" filter="url(#be)"/>
</g>
<clipPath id="d2c"><rect x="482.3" y="452.3" width="119.69999999999999" height="19.69999999999999"/></clipPath>
<rect x="482.30" y="452.30" width="119.70" height="19.70" fill="#8a8a8a"  />
<g clip-path="url(#d2c)">
<rect x="489.45" y="459.75" width="13.50" height="4.50" rx="2.25" fill="#141414" opacity="0.97" filter="url(#be)"/>
<ellipse cx="496.20" cy="462.00" rx="9.25" ry="2.28" fill="#151515" opacity="0.8245" filter="url(#be)"/>
<rect x="510.25" y="458.30" width="16.50" height="7.40" rx="3.70" fill="#141414" opacity="1" filter="url(#be)"/>
<ellipse cx="518.50" cy="462.00" rx="10.75" ry="3.44" fill="#151515" opacity="0.85" filter="url(#be)"/>
<rect x="533.85" y="459.75" width="13.50" height="4.50" rx="2.25" fill="#141414" opacity="0.96" filter="url(#be)"/>
<ellipse cx="540.60" cy="462.00" rx="9.25" ry="2.28" fill="#151515" opacity="0.816" filter="url(#be)"/>
<rect x="556.80" y="460.50" width="11.00" height="3.00" rx="1.50" fill="#141414" opacity="0.95" filter="url(#be)"/>
<ellipse cx="562.30" cy="462.00" rx="8.00" ry="1.68" fill="#151515" opacity="0.8075" filter="url(#be)"/>
<rect x="578.25" y="459.70" width="13.50" height="4.60" rx="2.30" fill="#141414" opacity="0.96" filter="url(#be)"/>
<ellipse cx="585.00" cy="462.00" rx="9.25" ry="2.32" fill="#151515" opacity="0.816" filter="url(#be)"/>
</g>
<clipPath id="d2d"><rect x="482.3" y="473.5" width="119.69999999999999" height="20.399999999999977"/></clipPath>
<rect x="482.30" y="473.50" width="119.70" height="20.40" fill="#969696"  />
<g clip-path="url(#d2d)">
<rect x="488.95" y="482.60" width="14.50" height="5.40" rx="2.70" fill="#141414" opacity="0.97" filter="url(#be)"/>
<ellipse cx="496.20" cy="485.30" rx="9.75" ry="2.64" fill="#151515" opacity="0.8245" filter="url(#be)"/>
<rect x="511.25" y="482.50" width="14.50" height="5.60" rx="2.80" fill="#141414" opacity="0.97" filter="url(#be)"/>
<ellipse cx="518.50" cy="485.30" rx="9.75" ry="2.72" fill="#151515" opacity="0.8245" filter="url(#be)"/>
<rect x="533.35" y="482.60" width="14.50" height="5.40" rx="2.70" fill="#141414" opacity="0.97" filter="url(#be)"/>
<ellipse cx="540.60" cy="485.30" rx="9.75" ry="2.64" fill="#151515" opacity="0.8245" filter="url(#be)"/>
<rect x="555.05" y="482.60" width="14.50" height="5.40" rx="2.70" fill="#141414" opacity="0.97" filter="url(#be)"/>
<ellipse cx="562.30" cy="485.30" rx="9.75" ry="2.64" fill="#151515" opacity="0.8245" filter="url(#be)"/>
<rect x="577.75" y="482.50" width="14.50" height="5.60" rx="2.80" fill="#141414" opacity="0.97" filter="url(#be)"/>
<ellipse cx="585.00" cy="485.30" rx="9.75" ry="2.72" fill="#151515" opacity="0.8245" filter="url(#be)"/>
</g>
<text x="472.20" y="421.20" font-size="6.9" font-weight="bold" text-anchor="end" fill="#111"  >C-Myc</text>
<text x="474.60" y="442.00" font-size="6.9" font-weight="bold" text-anchor="end" fill="#111"  >Cyclin D1</text>
<text x="473.40" y="463.20" font-size="6.9" font-weight="bold" text-anchor="end" fill="#111"  >BCLXL</text>
<text x="474.60" y="483.80" font-size="6.9" font-weight="bold" text-anchor="end" fill="#111"  >GAPDH</text>
<text x="537.60" y="502.80" font-size="7.3" font-weight="bold" text-anchor="middle" fill="#111"  >Capan-1</text>
</g>
<g id="panelE">
<text transform="translate(78.00,558.50) rotate(-45)" font-size="7.9" font-weight="bold" text-anchor="start" fill="#111" stroke-width="0.45">Vector</text>
<text transform="translate(103.60,558.50) rotate(-45)" font-size="7.9" font-weight="bold" text-anchor="start" fill="#111" stroke-width="0.45">CEP55</text>
<text transform="translate(126.30,558.50) rotate(-45)" font-size="7.9" font-weight="bold" text-anchor="start" fill="#111" stroke-width="0.45">Vector</text>
<text transform="translate(148.40,558.50) rotate(-45)" font-size="7.9" font-weight="bold" text-anchor="start" fill="#111" stroke-width="0.45">CEP55</text>
<clipPath id="e10"><rect x="63.2" y="563.6" width="104.10000000000001" height="20.699999999999932"/></clipPath>
<rect x="63.20" y="563.60" width="104.10" height="20.70" fill="#929292"  />
<g clip-path="url(#e10)">
<rect x="69.40" y="572.15" width="19.60" height="5.20" rx="2.60" fill="#141414" opacity="0.9" filter="url(#bx)"/>
<rect x="90.95" y="570.55" width="23.10" height="8.40" rx="4.20" fill="#141414" opacity="1" filter="url(#bx)"/>
<rect x="116.90" y="573.65" width="17.60" height="3.40" rx="1.70" fill="#141414" opacity="0.85" filter="url(#bx)"/>
<rect x="138.00" y="571.10" width="22.60" height="7.30" rx="3.65" fill="#141414" opacity="1" filter="url(#bx)"/>
</g>
<clipPath id="e11"><rect x="63.2" y="587.0" width="104.10000000000001" height="20.5"/></clipPath>
<rect x="63.20" y="587.00" width="104.10" height="20.50" fill="#979797"  />
<g clip-path="url(#e11)">
<rect x="72.05" y="594.85" width="17.10" height="5.40" rx="2.70" fill="#141414" opacity="0.95" filter="url(#bx)"/>
<rect x="95.95" y="594.85" width="18.10" height="5.40" rx="2.70" fill="#141414" opacity="0.95" filter="url(#bx)"/>
<rect x="118.75" y="594.85" width="18.10" height="5.80" rx="2.90" fill="#141414" opacity="0.97" filter="url(#bx)"/>
<rect x="141.25" y="594.65" width="18.10" height="5.20" rx="2.60" fill="#141414" opacity="0.95" filter="url(#bx)"/>
</g>
<clipPath id="e12"><rect x="63.2" y="611.6" width="104.10000000000001" height="20.699999999999932"/></clipPath>
<rect x="63.20" y="611.60" width="104.10" height="20.70" fill="#949494"  />
<g clip-path="url(#e12)">
<rect x="68.75" y="620.75" width="19.10" height="3.60" rx="1.80" fill="#141414" opacity="0.88" filter="url(#bx)"/>
<rect x="94.20" y="621.75" width="17.60" height="2.80" rx="1.40" fill="#141414" opacity="0.6" filter="url(#bx)"/>
<rect x="117.95" y="620.35" width="20.10" height="4.40" rx="2.20" fill="#141414" opacity="0.9" filter="url(#bx)"/>
<rect x="143.20" y="621.25" width="20.60" height="1.80" rx="0.90" fill="#141414" opacity="0.38" filter="url(#bx)"/>
</g>
<clipPath id="e13"><rect x="63.2" y="635.6" width="104.10000000000001" height="20.899999999999977"/></clipPath>
<rect x="63.20" y="635.60" width="104.10" height="20.90" fill="#8b8b8b"  />
<g clip-path="url(#e13)">
<rect x="69.45" y="642.65" width="23.10" height="7.20" rx="3.60" fill="#141414" opacity="0.98" filter="url(#bx)"/>
<rect x="93.50" y="642.85" width="21.60" height="6.80" rx="3.40" fill="#141414" opacity="0.98" filter="url(#bx)"/>
<rect x="116.05" y="642.75" width="22.10" height="7.00" rx="3.50" fill="#141414" opacity="0.98" filter="url(#bx)"/>
<rect x="139.25" y="642.85" width="22.10" height="6.80" rx="3.40" fill="#141414" opacity="0.98" filter="url(#bx)"/>
</g>
<text x="59.60" y="577.65" font-size="10.3" font-weight="bold" text-anchor="end" fill="#111"  >p-IKK<tspan font-weight="normal">β</tspan></text>
<text x="59.60" y="600.95" font-size="10.3" font-weight="bold" text-anchor="end" fill="#111"  >IKK<tspan font-weight="normal">β</tspan></text>
<text x="59.60" y="625.65" font-size="10.3" font-weight="bold" text-anchor="end" fill="#111"  >I<tspan font-weight="normal">κ</tspan>B<tspan font-weight="normal">α</tspan></text>
<text x="59.60" y="649.75" font-size="10.3" font-weight="bold" text-anchor="end" fill="#111"  >GAPDH</text>
<text transform="translate(190.10,558.80) rotate(-45)" font-size="8.1" font-weight="bold" text-anchor="start" fill="#111" stroke-width="0.45">Scramble</text>
<text transform="translate(208.10,558.80) rotate(-45)" font-size="8.1" font-weight="bold" text-anchor="start" fill="#111" stroke-width="0.45">shCEP55#1</text>
<text transform="translate(227.50,558.80) rotate(-45)" font-size="8.1" font-weight="bold" text-anchor="start" fill="#111" stroke-width="0.45">shCEP55#2</text>
<text transform="translate(244.00,558.80) rotate(-45)" font-size="8.1" font-weight="bold" text-anchor="start" fill="#111" stroke-width="0.45">Scramble</text>
<text transform="translate(262.00,558.80) rotate(-45)" font-size="8.1" font-weight="bold" text-anchor="start" fill="#111" stroke-width="0.45">shCEP55#1</text>
<text transform="translate(281.30,558.80) rotate(-45)" font-size="8.1" font-weight="bold" text-anchor="start" fill="#111" stroke-width="0.45">shCEP55#2</text>
<clipPath id="e20"><rect x="174.2" y="563.6" width="122.19999999999999" height="20.699999999999932"/></clipPath>
<rect x="174.20" y="563.60" width="122.20" height="20.70" fill="#929292"  />
<g clip-path="url(#e20)">
<rect x="184.20" y="572.65" width="13.60" height="5.20" rx="2.60" fill="#141414" opacity="0.93" filter="url(#bx)"/>
<rect x="201.20" y="574.05" width="6.60" height="2.80" rx="1.40" fill="#141414" opacity="0.6" filter="url(#bx)"/>
<rect x="209.70" y="574.35" width="4.60" height="2.40" rx="1.20" fill="#141414" opacity="0.4" filter="url(#bx)"/>
<rect x="220.20" y="574.15" width="6.60" height="2.80" rx="1.40" fill="#141414" opacity="0.55" filter="url(#bx)"/>
<rect x="229.45" y="574.45" width="4.10" height="2.20" rx="1.10" fill="#141414" opacity="0.3" filter="url(#bx)"/>
<rect x="237.65" y="573.95" width="14.10" height="4.80" rx="2.40" fill="#141414" opacity="0.85" filter="url(#bx)"/>
<rect x="254.20" y="575.05" width="3.60" height="1.80" rx="0.90" fill="#141414" opacity="0.3" filter="url(#bx)"/>
<rect x="260.20" y="574.95" width="8.60" height="2.80" rx="1.40" fill="#141414" opacity="0.5" filter="url(#bx)"/>
<rect x="274.20" y="576.05" width="5.60" height="1.80" rx="0.90" fill="#141414" opacity="0.2" filter="url(#bx)"/>
<rect x="283.70" y="576.05" width="4.60" height="1.80" rx="0.90" fill="#141414" opacity="0.2" filter="url(#bx)"/>
</g>
<clipPath id="e21"><rect x="174.2" y="587.0" width="122.19999999999999" height="20.5"/></clipPath>
<rect x="174.20" y="587.00" width="122.20" height="20.50" fill="#979797"  />
<g clip-path="url(#e21)">
<rect x="181.20" y="595.80" width="15.60" height="5.30" rx="2.65" fill="#141414" opacity="0.95" filter="url(#bx)"/>
<rect x="198.25" y="596.00" width="16.10" height="5.30" rx="2.65" fill="#141414" opacity="0.95" filter="url(#bx)"/>
<rect x="216.70" y="596.05" width="16.60" height="4.80" rx="2.40" fill="#141414" opacity="0.93" filter="url(#bx)"/>
<rect x="234.70" y="595.85" width="15.60" height="5.20" rx="2.60" fill="#141414" opacity="0.95" filter="url(#bx)"/>
<rect x="251.75" y="596.45" width="16.10" height="4.80" rx="2.40" fill="#141414" opacity="0.93" filter="url(#bx)"/>
<rect x="271.35" y="596.15" width="16.10" height="5.00" rx="2.50" fill="#141414" opacity="0.93" filter="url(#bx)"/>
</g>
<clipPath id="e22"><rect x="174.2" y="611.6" width="122.19999999999999" height="20.699999999999932"/></clipPath>
<rect x="174.20" y="611.60" width="122.20" height="20.70" fill="#949494"  />
<g clip-path="url(#e22)">
<rect x="182.45" y="621.05" width="12.10" height="3.40" rx="1.70" fill="#141414" opacity="0.92" filter="url(#bx)"/>
<rect x="198.20" y="619.35" width="17.60" height="6.80" rx="3.40" fill="#141414" opacity="1" filter="url(#bx)"/>
<rect x="216.65" y="619.35" width="18.10" height="6.80" rx="3.40" fill="#141414" opacity="1" filter="url(#bx)"/>
<rect x="237.45" y="620.70" width="14.10" height="3.70" rx="1.85" fill="#141414" opacity="0.92" filter="url(#bx)"/>
<rect x="251.65" y="618.65" width="19.10" height="7.80" rx="3.90" fill="#141414" opacity="1" filter="url(#bx)"/>
<rect x="270.65" y="619.35" width="17.10" height="5.60" rx="2.80" fill="#141414" opacity="1" filter="url(#bx)"/>
</g>
<clipPath id="e23"><rect x="174.2" y="635.6" width="122.19999999999999" height="20.899999999999977"/></clipPath>
<rect x="174.20" y="635.60" width="122.20" height="20.90" fill="#8b8b8b"  />
<g clip-path="url(#e23)">
<rect x="181.20" y="643.45" width="16.60" height="4.80" rx="2.40" fill="#141414" opacity="0.95" filter="url(#bx)"/>
<rect x="200.20" y="643.65" width="15.60" height="4.80" rx="2.40" fill="#141414" opacity="0.95" filter="url(#bx)"/>
<rect x="217.75" y="643.45" width="17.10" height="4.80" rx="2.40" fill="#141414" opacity="0.95" filter="url(#bx)"/>
<rect x="236.75" y="643.25" width="16.10" height="4.80" rx="2.40" fill="#141414" opacity="0.95" filter="url(#bx)"/>
<rect x="253.65" y="643.05" width="16.10" height="4.80" rx="2.40" fill="#141414" opacity="0.95" filter="url(#bx)"/>
<rect x="271.70" y="643.45" width="15.60" height="4.80" rx="2.40" fill="#141414" opacity="0.95" filter="url(#bx)"/>
</g>
<line x1="73.20" y1="661.60" x2="113.30" y2="661.60" stroke="#111" stroke-width="1.4"/>
<line x1="119.40" y1="661.60" x2="163.00" y2="661.60" stroke="#111" stroke-width="1.4"/>
<line x1="184.90" y1="661.60" x2="230.50" y2="661.60" stroke="#111" stroke-width="1.4"/>
<line x1="240.20" y1="661.60" x2="294.00" y2="661.60" stroke="#111" stroke-width="1.4"/>
<text x="93.20" y="674.20" font-size="10.4" font-weight="bold" text-anchor="middle" fill="#111"  >SW1990</text>
<text x="140.40" y="674.20" font-size="10.4" font-weight="bold" text-anchor="middle" fill="#111"  >Capan-1</text>
<text x="209.00" y="674.20" font-size="10.4" font-weight="bold" text-anchor="middle" fill="#111"  >SW1990</text>
<text x="265.20" y="674.20" font-size="10.4" font-weight="bold" text-anchor="middle" fill="#111"  >Capan-1</text>
</g>
<g id="panelF">
<text transform="translate(422.30,568.60) rotate(-45)" font-size="8.3" font-weight="bold" text-anchor="start" fill="#111" stroke-width="0.45">No extract</text>
<text transform="translate(451.50,568.60) rotate(-45)" font-size="8.3" font-weight="bold" text-anchor="start" fill="#111" stroke-width="0.45">Vector</text>
<text transform="translate(474.00,568.60) rotate(-45)" font-size="8.3" font-weight="bold" text-anchor="start" fill="#111" stroke-width="0.45">CEP55</text>
<text transform="translate(493.00,568.60) rotate(-45)" font-size="8.3" font-weight="bold" text-anchor="start" fill="#111" stroke-width="0.45">Scramble</text>
<text transform="translate(518.70,568.60) rotate(-45)" font-size="8.3" font-weight="bold" text-anchor="start" fill="#111" stroke-width="0.45">shCEP55#1</text>
<text transform="translate(541.30,568.60) rotate(-45)" font-size="8.3" font-weight="bold" text-anchor="start" fill="#111" stroke-width="0.45">shCEP55#2</text>
<text transform="translate(567.00,568.60) rotate(-45)" font-size="8.3" font-weight="bold" text-anchor="start" fill="#111" stroke-width="0.45">Competitor</text>
<clipPath id="f1"><rect x="390.5" y="573.2" width="195.5" height="45.6"/></clipPath>
<clipPath id="f2"><rect x="390.5" y="622.2" width="195.5" height="39"/></clipPath>
<rect x="390.50" y="573.20" width="195.50" height="45.60" fill="url(#gf1)"  />
<rect x="390.50" y="622.40" width="195.50" height="39.00" fill="url(#gf2)"  />
<g clip-path="url(#f1)">
<rect x="445.80" y="591.5" width="16.50" height="13.5" rx="5" fill="#161616" opacity="1" filter="url(#b14)"/>
<rect x="444.80" y="590.8" width="17.00" height="6.5" rx="3" fill="#161616" opacity="1" filter="url(#b14)"/>
<rect x="444.30" y="598.8" width="18.00" height="7" rx="3.4" fill="#161616" opacity="1" filter="url(#b14)"/>
<rect x="466.50" y="591.5" width="18.50" height="13.5" rx="5" fill="#161616" opacity="1" filter="url(#b14)"/>
<rect x="465.50" y="590.8" width="19.00" height="6.5" rx="3" fill="#161616" opacity="1" filter="url(#b14)"/>
<rect x="465.00" y="598.8" width="20.00" height="7" rx="3.4" fill="#161616" opacity="1" filter="url(#b14)"/>
<rect x="488.55" y="591.5" width="16.00" height="13.5" rx="5" fill="#161616" opacity="0.93" filter="url(#b14)"/>
<rect x="487.55" y="590.8" width="16.50" height="6.5" rx="3" fill="#161616" opacity="0.93" filter="url(#b14)"/>
<rect x="487.05" y="598.8" width="17.50" height="7" rx="3.4" fill="#161616" opacity="0.93" filter="url(#b14)"/>
<ellipse cx="518.00" cy="592.60" rx="7.60" ry="1.95" fill="#141414" opacity="0.85" filter="url(#b1)"/>
<ellipse cx="518.00" cy="601.50" rx="7.10" ry="2.05" fill="#141414" opacity="0.28" filter="url(#b14)"/>
<ellipse cx="540.50" cy="594.20" rx="7.60" ry="2.55" fill="#141414" opacity="0.85" filter="url(#b1)"/>
<ellipse cx="540.00" cy="603.00" rx="8.10" ry="3.25" fill="#141414" opacity="0.93" filter="url(#b1)"/>
<ellipse cx="541.00" cy="598.50" rx="6.10" ry="3.25" fill="#141414" opacity="0.5" filter="url(#b14)"/>
</g>
<g clip-path="url(#f2)">
<rect x="440.50" y="638.00" width="129.00" height="8.60" rx="4.30" fill="#141414" opacity="1" filter="url(#b14)"/>
<ellipse cx="449.9" cy="642.4" rx="11.5" ry="5.7" fill="#141414" filter="url(#b1)"/>
<ellipse cx="471.4" cy="642.4" rx="11.5" ry="5.7" fill="#141414" filter="url(#b1)"/>
<ellipse cx="492.9" cy="642.4" rx="11.5" ry="5.7" fill="#141414" filter="url(#b1)"/>
<ellipse cx="515.1" cy="642.4" rx="11.8" ry="5.7" fill="#141414" filter="url(#b1)"/>
<ellipse cx="537.3" cy="642.4" rx="11.5" ry="5.7" fill="#141414" filter="url(#b1)"/>
<ellipse cx="559.0" cy="642.4" rx="10.5" ry="5.7" fill="#141414" filter="url(#b1)"/>
</g>
<text x="355.90" y="591.40" font-size="10.1" font-weight="bold" text-anchor="middle" fill="#111"  >NF-<tspan font-weight="normal">κ</tspan>B-DNA</text>
<text x="355.90" y="602.60" font-size="10.1" font-weight="bold" text-anchor="middle" fill="#111"  >complex</text>
<text x="355.90" y="631.50" font-size="10.1" font-weight="bold" text-anchor="middle" fill="#111"  >OCT-1-DNA</text>
<text x="355.90" y="643.20" font-size="10.1" font-weight="bold" text-anchor="middle" fill="#111"  >complex</text>
<text x="486.50" y="681.20" font-size="10.8" font-weight="bold" text-anchor="middle" fill="#111"  >Capan-1</text>
</g>
</svg>
</body></html>
